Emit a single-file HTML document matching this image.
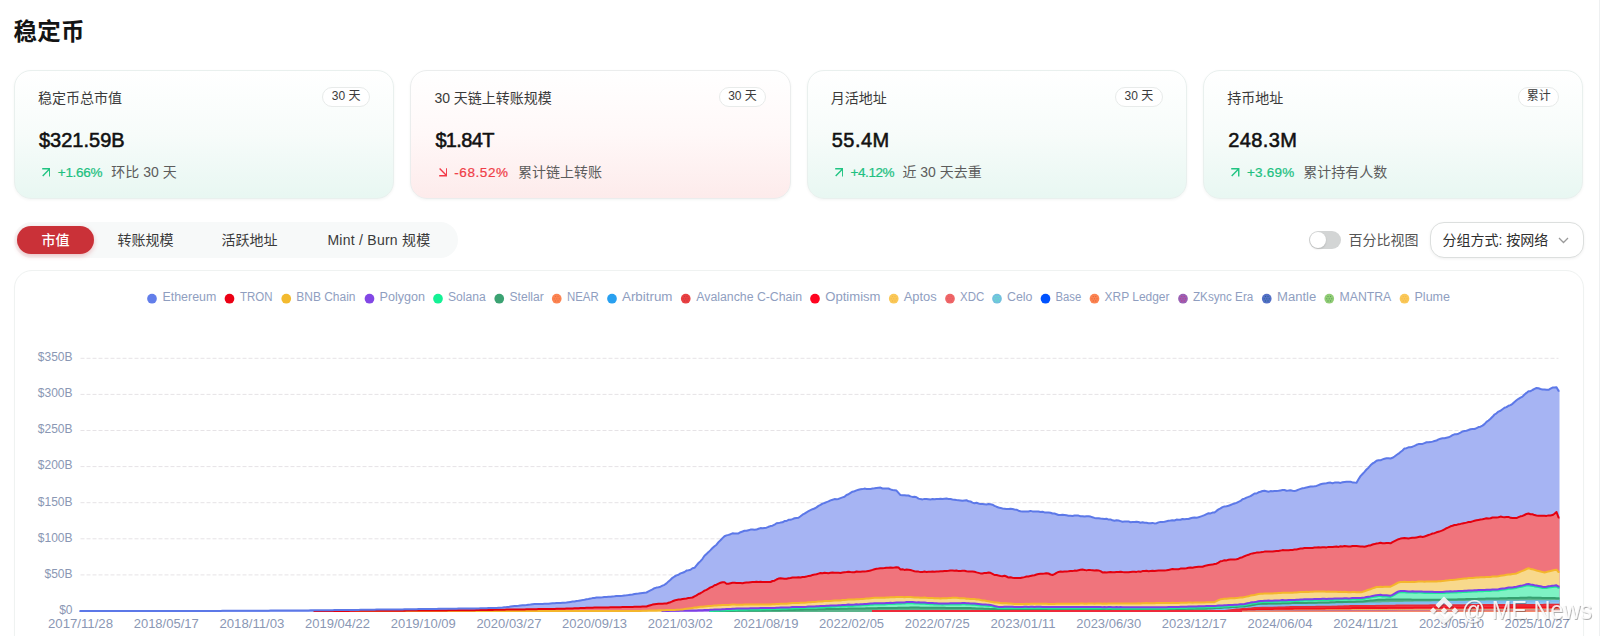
<!DOCTYPE html>
<html lang="zh-CN">
<head>
<meta charset="utf-8">
<title>稳定币</title>
<style>
*{box-sizing:border-box;margin:0;padding:0}
html,body{width:1600px;height:636px;overflow:hidden;background:#fff}
body{position:relative;font-family:"Liberation Sans","Noto Sans CJK SC",sans-serif;color:#1f1f1f}
.abs{position:absolute}
h1{position:absolute;left:13.5px;top:15.5px;font-size:23.5px;line-height:32px;font-weight:700;color:#141414;letter-spacing:0.3px}
.edge{position:absolute;right:0;top:0;width:1.3px;height:636px;background:#eef0f1}
.card{position:absolute;top:70.3px;height:128.3px;width:380.2px;border:1px solid #e9f0ee;border-radius:17px;
  background:linear-gradient(180deg,#ffffff 0%,#f7fcfa 50%,#e8f7f2 100%);box-shadow:0 1px 3px rgba(20,60,40,.05)}
.card.red{background:linear-gradient(180deg,#ffffff 0%,#fff8f8 50%,#fdebeb 100%);border-color:#ebeded}
.card .lbl{position:absolute;left:23px;top:17px;font-size:14px;line-height:20px;color:#3a3a3a;white-space:nowrap}
.card .pill{position:absolute;right:23.2px;top:15.7px;height:19.8px;min-width:47.8px;padding:0 8px;border:1px solid #e8ebea;border-radius:10px;background:#fff;
  font-size:12px;line-height:17.6px;color:#3c3c3c;text-align:center;white-space:nowrap}
.card .val{position:absolute;left:24px;top:54.7px;font-size:20px;line-height:28px;font-weight:400;color:#111;-webkit-text-stroke:0.55px #111;white-space:nowrap}
.card .chg{position:absolute;left:0;top:91.1px;height:20px;font-size:14px;line-height:20px;white-space:nowrap}
.card .chg svg{position:absolute;left:26.9px;top:5.7px;width:8.5px;height:8.5px}
.card .chg .p{position:absolute;left:42.8px;top:.5px;font-size:13.5px;color:#20c080;-webkit-text-stroke:0.22px currentColor}
.card.red .chg .p{color:#f03e48}
.card .chg .d{position:absolute;top:0;color:#5c5c5c}
.tabs{position:absolute;left:14px;top:222px;width:444px;height:36px;border-radius:18px;background:#f7f9f9}
.tab{position:absolute;top:4px;height:28px;line-height:28px;font-size:14px;color:#3a3a3a;white-space:nowrap;text-align:center}
.tab.on{left:3.3px;top:3.7px;width:76.4px;height:28.8px;line-height:28.6px;border-radius:14.4px;background:#ca3138;color:#fff;font-weight:500;box-shadow:0 2px 5px rgba(200,40,50,.28)}
.toggle{position:absolute;left:1309px;top:231px;width:32px;height:18px;border-radius:9px;background:#d3d5d5}
.toggle i{position:absolute;left:.9px;top:.9px;width:16.2px;height:16.2px;border-radius:50%;background:#fff;box-shadow:0 1px 2px rgba(0,0,0,.15)}
.tgl-l{position:absolute;left:1348.5px;top:230px;font-size:14px;line-height:20px;color:#555;white-space:nowrap}
.sel{position:absolute;left:1430px;top:222px;width:154px;height:36px;border:1px solid #dcdfde;border-radius:14px;background:#fff;box-shadow:0 1px 3px rgba(0,0,0,.06)}
.sel span{position:absolute;left:11.5px;top:7px;font-size:14px;line-height:20px;color:#2e2e2e;white-space:nowrap}
.sel svg{position:absolute;left:127px;top:14px;width:11px;height:7px}
.chart{position:absolute;left:14px;top:270px;width:1570px;height:400px;border:1px solid #eff2f1;border-radius:18px;background:#fff;box-shadow:0 1px 2px rgba(0,0,0,.02)}
svg.plot{position:absolute;left:0;top:0;width:1600px;height:636px;font-family:"Liberation Sans","Noto Sans CJK SC",sans-serif}
</style>
</head>
<body>
<h1>稳定币</h1>

<div class="card" style="left:14px">
  <div class="lbl">稳定币总市值</div><div class="pill">30 天</div>
  <div class="val" style="letter-spacing:0px">$321.59B</div>
  <div class="chg"><svg viewBox="0 0 8.5 8.5"><path d="M0.7 7.9L7.6 1M0.2 0.75H7.75V8.4" fill="none" stroke="#20c482" stroke-width="1.4"/></svg><span class="p" style="letter-spacing:-0.3px">+1.66%</span><span class="d" style="left:96.3px">环比 30 天</span></div>
</div>
<div class="card red" style="left:410.4px">
  <div class="lbl">30 天链上转账规模</div><div class="pill">30 天</div>
  <div class="val" style="letter-spacing:-0.65px">$1.84T</div>
  <div class="chg"><svg viewBox="0 0 8.5 8.5" style="left:27.3px;top:5.9px"><path d="M0.6 0.6L7.5 7.5M0.2 7.75H7.75V0.2" fill="none" stroke="#f23a48" stroke-width="1.4"/></svg><span class="p" style="letter-spacing:0.6px">-68.52%</span><span class="d" style="left:106.6px">累计链上转账</span></div>
</div>
<div class="card" style="left:806.8px">
  <div class="lbl">月活地址</div><div class="pill">30 天</div>
  <div class="val" style="letter-spacing:0.45px">55.4M</div>
  <div class="chg"><svg viewBox="0 0 8.5 8.5"><path d="M0.7 7.9L7.6 1M0.2 0.75H7.75V8.4" fill="none" stroke="#20c482" stroke-width="1.4"/></svg><span class="p" style="letter-spacing:-0.45px">+4.12%</span><span class="d" style="left:94.6px">近 30 天去重</span></div>
</div>
<div class="card" style="left:1203.2px">
  <div class="lbl">持币地址</div><div class="pill" style="min-width:40.9px;padding:0 6px">累计</div>
  <div class="val" style="letter-spacing:0.4px">248.3M</div>
  <div class="chg"><svg viewBox="0 0 8.5 8.5"><path d="M0.7 7.9L7.6 1M0.2 0.75H7.75V8.4" fill="none" stroke="#20c482" stroke-width="1.4"/></svg><span class="p" style="letter-spacing:0.22px">+3.69%</span><span class="d" style="left:99px">累计持有人数</span></div>
</div>

<div class="tabs">
  <div class="tab on">市值</div>
  <div class="tab" style="left:103.5px;width:56px">转账规模</div>
  <div class="tab" style="left:207.5px;width:56px">活跃地址</div>
  <div class="tab" style="left:311px;width:108px;letter-spacing:0.25px">Mint / Burn 规模</div>
</div>
<div class="toggle"><i></i></div>
<div class="tgl-l">百分比视图</div>
<div class="sel"><span>分组方式: 按网络</span><svg viewBox="0 0 11 7"><path d="M1 1L5.5 5.5L10 1" fill="none" stroke="#9a9a9a" stroke-width="1.3"/></svg></div>

<div class="chart"></div>
<svg class="plot" viewBox="0 0 1600 636">
<g stroke="#e6e3e6" stroke-width="1" stroke-dasharray="4 2" fill="none">
<line x1="80.5" x2="1558.5" y1="574.9" y2="574.9"/>
<line x1="80.5" x2="1558.5" y1="538.8" y2="538.8"/>
<line x1="80.5" x2="1558.5" y1="502.7" y2="502.7"/>
<line x1="80.5" x2="1558.5" y1="466.6" y2="466.6"/>
<line x1="80.5" x2="1558.5" y1="430.5" y2="430.5"/>
<line x1="80.5" x2="1558.5" y1="394.4" y2="394.4"/>
<line x1="80.5" x2="1558.5" y1="358.3" y2="358.3"/>
</g>
<defs><clipPath id="pc"><rect x="79.5" y="340" width="1480" height="272"/></clipPath></defs>
<g clip-path="url(#pc)" stroke-width="2" stroke-linejoin="round">
<defs><path id="L0" d="M74.5 619.0L74.5 611.0L80.5 611.0L82.5 611.0L84.5 611.0L86.5 611.0L88.5 611.0L90.5 611.0L92.5 611.0L94.5 611.0L96.5 611.0L98.5 611.0L100.5 611.0L102.5 611.0L104.5 611.0L106.5 611.0L108.5 611.0L110.5 611.0L112.5 611.0L114.5 611.0L116.5 611.0L118.5 611.0L120.5 611.0L122.5 611.0L124.5 611.0L126.5 611.0L128.5 611.0L130.5 611.0L132.5 611.0L134.5 611.0L136.5 611.0L138.5 611.0L140.5 611.0L142.5 611.0L144.5 611.0L146.5 611.0L148.5 611.0L150.5 611.0L152.5 611.0L154.5 611.0L156.5 611.0L158.5 611.0L160.5 611.0L162.5 611.0L164.5 611.0L166.5 610.9L168.5 610.9L170.5 610.9L172.5 610.9L174.5 610.9L176.5 610.9L178.5 610.9L180.5 610.9L182.5 610.9L184.5 610.9L186.5 610.9L188.5 610.9L190.5 610.9L192.5 610.9L194.5 610.9L196.5 610.9L198.5 610.9L200.5 610.9L202.5 610.9L204.5 610.9L206.5 610.9L208.5 610.9L210.5 610.9L212.5 610.9L214.5 610.9L216.5 610.9L218.5 610.9L220.5 610.9L222.5 610.8L224.5 610.8L226.5 610.8L228.5 610.8L230.5 610.8L232.5 610.8L234.5 610.8L236.5 610.8L238.5 610.8L240.5 610.8L242.5 610.8L244.5 610.8L246.5 610.8L248.5 610.8L250.5 610.8L252.5 610.8L254.5 610.8L256.5 610.7L258.5 610.7L260.5 610.7L262.5 610.7L264.5 610.7L266.5 610.7L268.5 610.7L270.5 610.6L272.5 610.6L274.5 610.6L276.5 610.6L278.5 610.6L280.5 610.6L282.5 610.6L284.5 610.5L286.5 610.5L288.5 610.5L290.5 610.5L292.5 610.5L294.5 610.5L296.5 610.4L298.5 610.4L300.5 610.4L302.5 610.4L304.5 610.4L306.5 610.4L308.5 610.4L310.5 610.3L312.5 610.3L314.5 610.3L316.5 610.3L318.5 610.3L320.5 610.3L322.5 610.3L324.5 610.2L326.5 610.2L328.5 610.2L330.5 610.2L332.5 610.2L334.5 610.1L336.5 610.1L338.5 610.1L340.5 610.1L342.5 610.0L344.5 610.0L346.5 610.0L348.5 610.0L350.5 610.0L352.5 609.9L354.5 609.9L356.5 609.9L358.5 609.9L360.5 609.8L362.5 609.8L364.5 609.8L366.5 609.8L368.5 609.8L370.5 609.7L372.5 609.7L374.5 609.7L376.5 609.6L378.5 609.6L380.5 609.6L382.5 609.6L384.5 609.6L386.5 609.6L388.5 609.5L390.5 609.5L392.5 609.5L394.5 609.4L396.5 609.4L398.5 609.4L400.5 609.4L402.5 609.4L404.5 609.3L406.5 609.3L408.5 609.3L410.5 609.3L412.5 609.2L414.5 609.2L416.5 609.2L418.5 609.1L420.5 609.1L422.5 609.1L424.5 609.1L426.5 609.1L428.5 609.0L430.5 609.0L432.5 609.0L434.5 608.9L436.5 608.9L438.5 608.8L440.5 608.8L442.5 608.8L444.5 608.7L446.5 608.7L448.5 608.8L450.5 608.7L452.5 608.7L454.5 608.7L456.5 608.7L458.5 608.6L460.5 608.6L462.5 608.5L464.5 608.5L466.5 608.4L468.5 608.4L470.5 608.4L472.5 608.4L474.5 608.4L476.5 608.4L478.5 608.4L480.5 608.3L482.5 608.2L484.5 608.2L486.5 608.2L488.5 608.1L490.5 608.1L492.5 608.0L494.5 607.9L496.5 607.9L498.5 607.8L500.5 607.7L502.5 607.5L504.5 607.2L506.5 607.1L508.5 606.9L510.5 606.6L512.5 606.3L514.5 606.1L516.5 606.0L518.5 605.8L520.5 605.5L522.5 605.3L524.5 605.2L526.5 605.0L528.5 604.7L530.5 604.5L532.5 604.2L534.5 604.0L536.5 604.1L538.5 604.0L540.5 603.9L542.5 603.9L544.5 603.7L546.5 603.7L548.5 603.7L550.5 603.5L552.5 603.3L554.5 603.2L556.5 603.1L558.5 603.0L560.5 602.9L562.5 602.8L564.5 602.7L566.5 602.6L568.5 602.2L570.5 601.9L572.5 601.6L574.5 601.4L576.5 601.0L578.5 600.8L580.5 600.4L582.5 600.1L584.5 599.7L586.5 599.2L588.5 599.0L590.5 598.6L592.5 598.1L594.5 598.0L596.5 597.6L598.5 597.5L600.5 597.4L602.5 597.3L604.5 597.1L606.5 596.9L608.5 596.8L610.5 596.8L612.5 596.4L614.5 596.3L616.5 596.1L618.5 595.9L620.5 595.9L622.5 595.7L624.5 595.4L626.5 595.3L628.5 595.1L630.5 594.7L632.5 594.5L634.5 594.1L636.5 593.8L638.5 593.6L640.5 593.3L642.5 593.0L644.5 592.7L646.5 592.5L648.5 591.4L650.5 590.4L652.5 589.4L654.5 588.2L656.5 587.6L658.5 587.2L660.5 586.7L662.5 585.7L664.5 584.8L666.5 583.4L668.5 581.4L670.5 579.7L672.5 577.8L674.5 576.5L676.5 575.4L678.5 574.8L680.5 573.4L682.5 572.8L684.5 572.0L686.5 570.6L688.5 570.2L690.5 569.7L692.5 568.2L694.5 567.8L696.5 565.4L698.5 563.0L700.5 561.1L702.5 558.8L704.5 555.8L706.5 553.9L708.5 552.1L710.5 550.1L712.5 548.0L714.5 546.2L716.5 544.7L718.5 542.1L720.5 540.2L722.5 538.1L724.5 536.2L726.5 535.4L728.5 534.9L730.5 534.2L732.5 533.3L734.5 533.6L736.5 533.4L738.5 533.4L740.5 532.2L742.5 531.5L744.5 530.7L746.5 530.8L748.5 530.2L750.5 529.6L752.5 529.4L754.5 529.7L756.5 529.6L758.5 528.8L760.5 528.1L762.5 528.3L764.5 528.0L766.5 527.7L768.5 526.8L770.5 526.1L772.5 525.7L774.5 524.7L776.5 523.3L778.5 523.1L780.5 522.6L782.5 522.3L784.5 521.1L786.5 521.0L788.5 519.8L790.5 519.8L792.5 519.1L794.5 518.3L796.5 517.9L798.5 517.8L800.5 516.3L802.5 514.7L804.5 513.6L806.5 512.3L808.5 511.2L810.5 510.2L812.5 509.2L814.5 508.5L816.5 507.4L818.5 505.9L820.5 504.9L822.5 503.6L824.5 503.0L826.5 502.1L828.5 501.4L830.5 500.4L832.5 499.8L834.5 499.1L836.5 499.2L838.5 498.9L840.5 498.1L842.5 497.4L844.5 496.8L846.5 495.0L848.5 494.3L850.5 492.9L852.5 491.7L854.5 491.2L856.5 490.4L858.5 489.7L860.5 489.3L862.5 489.1L864.5 488.6L866.5 488.9L868.5 488.9L870.5 488.9L872.5 488.6L874.5 488.3L876.5 487.9L878.5 487.7L880.5 487.6L882.5 488.5L884.5 488.5L886.5 488.5L888.5 488.5L890.5 489.4L892.5 490.0L894.5 490.2L896.5 490.6L898.5 492.8L900.5 495.1L902.5 495.3L904.5 495.2L906.5 495.5L908.5 495.5L910.5 496.4L912.5 496.9L914.5 496.8L916.5 497.2L918.5 498.6L920.5 499.1L922.5 499.4L924.5 498.9L926.5 499.0L928.5 499.2L930.5 499.4L932.5 499.1L934.5 499.3L936.5 498.9L938.5 498.9L940.5 498.8L942.5 499.0L944.5 498.8L946.5 498.6L948.5 498.9L950.5 499.0L952.5 499.4L954.5 499.7L956.5 500.1L958.5 500.2L960.5 500.4L962.5 500.7L964.5 500.4L966.5 500.2L968.5 501.3L970.5 501.5L972.5 502.6L974.5 503.3L976.5 502.8L978.5 503.5L980.5 504.0L982.5 504.1L984.5 504.3L986.5 504.5L988.5 504.0L990.5 504.2L992.5 504.7L994.5 505.8L996.5 506.7L998.5 507.5L1000.5 507.9L1002.5 508.5L1004.5 508.8L1006.5 509.1L1008.5 509.0L1010.5 508.8L1012.5 509.0L1014.5 509.5L1016.5 509.7L1018.5 510.7L1020.5 511.2L1022.5 511.4L1024.5 511.5L1026.5 511.6L1028.5 511.5L1030.5 510.9L1032.5 511.4L1034.5 511.6L1036.5 511.5L1038.5 511.5L1040.5 512.0L1042.5 511.7L1044.5 512.4L1046.5 512.4L1048.5 512.4L1050.5 512.7L1052.5 513.5L1054.5 513.5L1056.5 514.2L1058.5 515.0L1060.5 514.9L1062.5 514.8L1064.5 515.0L1066.5 515.3L1068.5 515.7L1070.5 515.8L1072.5 516.0L1074.5 515.6L1076.5 515.4L1078.5 515.6L1080.5 516.2L1082.5 516.2L1084.5 516.6L1086.5 516.3L1088.5 516.3L1090.5 516.6L1092.5 517.3L1094.5 517.9L1096.5 518.3L1098.5 518.2L1100.5 518.5L1102.5 518.7L1104.5 518.9L1106.5 518.7L1108.5 519.6L1110.5 519.4L1112.5 520.3L1114.5 520.8L1116.5 520.3L1118.5 520.5L1120.5 521.1L1122.5 521.7L1124.5 521.6L1126.5 521.5L1128.5 521.4L1130.5 522.2L1132.5 521.9L1134.5 522.1L1136.5 521.8L1138.5 522.0L1140.5 522.7L1142.5 522.2L1144.5 522.8L1146.5 522.8L1148.5 523.2L1150.5 523.3L1152.5 522.9L1154.5 523.4L1156.5 523.2L1158.5 522.4L1160.5 521.9L1162.5 521.9L1164.5 521.7L1166.5 521.3L1168.5 520.7L1170.5 520.5L1172.5 520.2L1174.5 520.5L1176.5 519.6L1178.5 519.7L1180.5 519.8L1182.5 519.0L1184.5 519.3L1186.5 519.1L1188.5 519.0L1190.5 518.2L1192.5 517.7L1194.5 517.4L1196.5 517.7L1198.5 517.3L1200.5 516.6L1202.5 515.9L1204.5 515.1L1206.5 514.1L1208.5 513.3L1210.5 513.4L1212.5 512.6L1214.5 512.6L1216.5 510.9L1218.5 509.4L1220.5 508.3L1222.5 507.1L1224.5 506.4L1226.5 506.2L1228.5 505.7L1230.5 505.0L1232.5 504.1L1234.5 503.5L1236.5 502.9L1238.5 501.8L1240.5 500.9L1242.5 499.2L1244.5 498.6L1246.5 497.6L1248.5 496.9L1250.5 496.1L1252.5 494.8L1254.5 493.5L1256.5 493.5L1258.5 492.3L1260.5 491.8L1262.5 491.0L1264.5 490.8L1266.5 491.2L1268.5 491.7L1270.5 491.1L1272.5 491.2L1274.5 490.9L1276.5 490.9L1278.5 490.7L1280.5 490.4L1282.5 490.1L1284.5 490.0L1286.5 490.7L1288.5 490.6L1290.5 490.2L1292.5 490.7L1294.5 491.1L1296.5 490.5L1298.5 489.6L1300.5 488.9L1302.5 488.3L1304.5 488.0L1306.5 487.4L1308.5 487.0L1310.5 486.6L1312.5 486.4L1314.5 486.3L1316.5 485.9L1318.5 485.1L1320.5 484.3L1322.5 483.8L1324.5 483.5L1326.5 483.2L1328.5 482.7L1330.5 482.6L1332.5 483.2L1334.5 482.6L1336.5 482.6L1338.5 482.6L1340.5 482.9L1342.5 482.3L1344.5 482.0L1346.5 481.8L1348.5 481.8L1350.5 481.8L1352.5 482.4L1354.5 482.6L1356.5 482.7L1358.5 479.2L1360.5 476.1L1362.5 474.0L1364.5 471.9L1366.5 469.5L1368.5 467.7L1370.5 465.3L1372.5 463.5L1374.5 462.4L1376.5 460.8L1378.5 460.2L1380.5 460.3L1382.5 459.4L1384.5 458.7L1386.5 458.3L1388.5 458.3L1390.5 458.5L1392.5 457.8L1394.5 456.5L1396.5 455.0L1398.5 453.7L1400.5 452.0L1402.5 450.5L1404.5 448.4L1406.5 448.2L1408.5 447.3L1410.5 447.3L1412.5 446.7L1414.5 445.8L1416.5 444.8L1418.5 444.1L1420.5 444.0L1422.5 443.9L1424.5 443.1L1426.5 442.3L1428.5 442.3L1430.5 442.1L1432.5 441.6L1434.5 441.0L1436.5 440.6L1438.5 439.4L1440.5 438.8L1442.5 438.3L1444.5 438.3L1446.5 437.7L1448.5 437.3L1450.5 436.3L1452.5 435.2L1454.5 434.3L1456.5 434.3L1458.5 433.7L1460.5 432.7L1462.5 431.5L1464.5 431.1L1466.5 430.7L1468.5 430.0L1470.5 429.2L1472.5 429.0L1474.5 429.0L1476.5 428.1L1478.5 427.1L1480.5 426.7L1482.5 425.6L1484.5 424.1L1486.5 421.9L1488.5 420.5L1490.5 418.8L1492.5 416.8L1494.5 414.5L1496.5 413.3L1498.5 411.6L1500.5 410.8L1502.5 409.2L1504.5 407.8L1506.5 407.1L1508.5 405.7L1510.5 405.1L1512.5 403.8L1514.5 401.9L1516.5 400.2L1518.5 398.8L1520.5 397.6L1522.5 396.6L1524.5 394.5L1526.5 392.9L1528.5 391.2L1530.5 391.2L1532.5 390.0L1534.5 388.9L1536.5 388.0L1538.5 388.3L1540.5 389.0L1542.5 389.4L1544.5 389.4L1546.5 389.8L1548.5 389.8L1550.5 388.7L1552.5 387.6L1554.5 387.6L1556.5 387.2L1558.5 390.8L1564.5 390.8L1564.5 619.0Z"/>
<path id="L1" d="M314.5 619.0L314.5 611.0L316.5 610.9L318.5 610.9L320.5 610.9L322.5 610.9L324.5 610.9L326.5 610.9L328.5 610.9L330.5 610.9L332.5 610.9L334.5 610.9L336.5 610.9L338.5 610.9L340.5 610.9L342.5 610.9L344.5 610.9L346.5 610.9L348.5 610.9L350.5 610.8L352.5 610.8L354.5 610.8L356.5 610.8L358.5 610.8L360.5 610.8L362.5 610.8L364.5 610.8L366.5 610.8L368.5 610.8L370.5 610.8L372.5 610.8L374.5 610.8L376.5 610.8L378.5 610.8L380.5 610.8L382.5 610.8L384.5 610.7L386.5 610.7L388.5 610.7L390.5 610.7L392.5 610.7L394.5 610.7L396.5 610.7L398.5 610.7L400.5 610.7L402.5 610.7L404.5 610.7L406.5 610.6L408.5 610.6L410.5 610.6L412.5 610.6L414.5 610.6L416.5 610.6L418.5 610.6L420.5 610.5L422.5 610.5L424.5 610.5L426.5 610.5L428.5 610.5L430.5 610.5L432.5 610.5L434.5 610.4L436.5 610.4L438.5 610.4L440.5 610.4L442.5 610.4L444.5 610.4L446.5 610.4L448.5 610.3L450.5 610.3L452.5 610.3L454.5 610.3L456.5 610.3L458.5 610.3L460.5 610.2L462.5 610.2L464.5 610.2L466.5 610.2L468.5 610.2L470.5 610.2L472.5 610.2L474.5 610.2L476.5 610.1L478.5 610.1L480.5 610.1L482.5 610.1L484.5 610.0L486.5 610.0L488.5 610.0L490.5 609.9L492.5 609.9L494.5 609.8L496.5 609.8L498.5 609.8L500.5 609.8L502.5 609.7L504.5 609.7L506.5 609.6L508.5 609.6L510.5 609.6L512.5 609.5L514.5 609.5L516.5 609.5L518.5 609.5L520.5 609.4L522.5 609.4L524.5 609.4L526.5 609.3L528.5 609.3L530.5 609.2L532.5 609.2L534.5 609.2L536.5 609.2L538.5 609.1L540.5 609.1L542.5 609.1L544.5 609.0L546.5 609.0L548.5 609.0L550.5 608.9L552.5 608.9L554.5 608.9L556.5 608.8L558.5 608.8L560.5 608.8L562.5 608.8L564.5 608.7L566.5 608.6L568.5 608.6L570.5 608.5L572.5 608.4L574.5 608.3L576.5 608.2L578.5 608.2L580.5 608.1L582.5 608.0L584.5 607.9L586.5 607.8L588.5 607.8L590.5 607.8L592.5 607.7L594.5 607.6L596.5 607.5L598.5 607.4L600.5 607.5L602.5 607.4L604.5 607.4L606.5 607.4L608.5 607.4L610.5 607.3L612.5 607.2L614.5 607.2L616.5 607.2L618.5 607.2L620.5 607.2L622.5 607.1L624.5 607.0L626.5 607.0L628.5 606.9L630.5 606.9L632.5 606.9L634.5 606.8L636.5 606.8L638.5 606.7L640.5 606.7L642.5 606.6L644.5 606.6L646.5 606.5L648.5 605.8L650.5 605.2L652.5 604.6L654.5 604.2L656.5 604.0L658.5 603.8L660.5 603.7L662.5 603.7L664.5 603.6L666.5 603.6L668.5 602.8L670.5 602.2L672.5 601.3L674.5 600.5L676.5 599.9L678.5 599.6L680.5 599.4L682.5 599.0L684.5 598.7L686.5 598.5L688.5 597.9L690.5 597.8L692.5 597.5L694.5 596.4L696.5 595.4L698.5 594.0L700.5 593.2L702.5 592.0L704.5 590.7L706.5 589.8L708.5 588.7L710.5 587.4L712.5 586.7L714.5 585.3L716.5 584.7L718.5 583.6L720.5 582.8L722.5 582.2L724.5 582.2L726.5 583.7L728.5 583.7L730.5 583.2L732.5 582.8L734.5 582.7L736.5 582.9L738.5 582.9L740.5 582.9L742.5 583.2L744.5 582.7L746.5 582.4L748.5 582.6L750.5 582.2L752.5 581.9L754.5 582.0L756.5 581.8L758.5 581.9L760.5 581.8L762.5 582.0L764.5 582.1L766.5 581.9L768.5 582.0L770.5 582.0L772.5 581.0L774.5 580.7L776.5 579.5L778.5 578.6L780.5 578.3L782.5 578.5L784.5 578.7L786.5 578.7L788.5 578.3L790.5 578.0L792.5 577.5L794.5 577.6L796.5 577.6L798.5 577.3L800.5 577.4L802.5 577.0L804.5 576.9L806.5 576.6L808.5 575.9L810.5 575.8L812.5 574.9L814.5 574.6L816.5 574.2L818.5 573.6L820.5 573.0L822.5 573.2L824.5 572.8L826.5 572.9L828.5 573.3L830.5 572.8L832.5 572.6L834.5 572.7L836.5 572.7L838.5 572.8L840.5 572.9L842.5 572.5L844.5 572.2L846.5 572.0L848.5 571.7L850.5 572.1L852.5 572.2L854.5 572.2L856.5 571.5L858.5 571.8L860.5 571.8L862.5 571.6L864.5 571.6L866.5 571.3L868.5 570.9L870.5 570.5L872.5 569.9L874.5 569.2L876.5 568.7L878.5 568.6L880.5 568.3L882.5 568.2L884.5 568.1L886.5 567.7L888.5 567.7L890.5 567.5L892.5 567.7L894.5 567.5L896.5 567.2L898.5 567.6L900.5 569.4L902.5 569.3L904.5 569.9L906.5 569.6L908.5 569.8L910.5 570.0L912.5 570.6L914.5 571.2L916.5 571.6L918.5 571.6L920.5 572.1L922.5 571.9L924.5 571.6L926.5 571.9L928.5 571.8L930.5 571.7L932.5 571.6L934.5 571.8L936.5 571.4L938.5 571.5L940.5 571.3L942.5 571.3L944.5 571.0L946.5 570.9L948.5 570.8L950.5 570.6L952.5 570.5L954.5 570.8L956.5 570.5L958.5 571.1L960.5 570.9L962.5 570.7L964.5 570.7L966.5 571.3L968.5 571.5L970.5 571.5L972.5 571.5L974.5 571.7L976.5 572.4L978.5 572.9L980.5 573.4L982.5 573.5L984.5 572.9L986.5 572.9L988.5 572.6L990.5 572.8L992.5 573.8L994.5 575.0L996.5 575.0L998.5 575.5L1000.5 575.9L1002.5 576.2L1004.5 575.7L1006.5 576.5L1008.5 577.6L1010.5 577.3L1012.5 577.8L1014.5 578.0L1016.5 578.0L1018.5 578.1L1020.5 578.0L1022.5 577.6L1024.5 577.1L1026.5 576.5L1028.5 576.5L1030.5 575.9L1032.5 575.5L1034.5 575.2L1036.5 574.5L1038.5 574.1L1040.5 573.7L1042.5 573.7L1044.5 573.5L1046.5 573.2L1048.5 573.5L1050.5 574.5L1052.5 575.0L1054.5 574.1L1056.5 572.8L1058.5 571.9L1060.5 571.6L1062.5 571.8L1064.5 571.4L1066.5 571.5L1068.5 571.3L1070.5 570.9L1072.5 571.1L1074.5 570.6L1076.5 570.8L1078.5 570.3L1080.5 569.8L1082.5 569.6L1084.5 569.9L1086.5 570.4L1088.5 569.9L1090.5 570.1L1092.5 570.2L1094.5 570.5L1096.5 570.3L1098.5 570.4L1100.5 571.1L1102.5 572.4L1104.5 572.3L1106.5 572.6L1108.5 572.3L1110.5 572.0L1112.5 572.3L1114.5 572.2L1116.5 571.9L1118.5 572.1L1120.5 571.7L1122.5 572.1L1124.5 572.2L1126.5 572.3L1128.5 572.3L1130.5 572.0L1132.5 571.8L1134.5 571.7L1136.5 571.9L1138.5 571.4L1140.5 571.7L1142.5 571.1L1144.5 570.9L1146.5 570.8L1148.5 571.2L1150.5 571.0L1152.5 570.8L1154.5 571.1L1156.5 570.7L1158.5 570.6L1160.5 570.5L1162.5 570.6L1164.5 570.5L1166.5 570.3L1168.5 569.9L1170.5 569.5L1172.5 569.1L1174.5 569.3L1176.5 569.2L1178.5 569.2L1180.5 568.6L1182.5 568.4L1184.5 568.5L1186.5 568.3L1188.5 567.8L1190.5 567.6L1192.5 567.8L1194.5 567.3L1196.5 566.9L1198.5 566.7L1200.5 566.8L1202.5 566.7L1204.5 566.0L1206.5 565.4L1208.5 565.0L1210.5 564.7L1212.5 564.6L1214.5 564.0L1216.5 563.7L1218.5 562.6L1220.5 561.2L1222.5 560.9L1224.5 560.2L1226.5 560.4L1228.5 559.7L1230.5 559.4L1232.5 559.6L1234.5 559.5L1236.5 559.2L1238.5 558.7L1240.5 557.7L1242.5 557.2L1244.5 556.2L1246.5 555.4L1248.5 554.8L1250.5 553.9L1252.5 553.4L1254.5 553.1L1256.5 552.6L1258.5 552.4L1260.5 552.3L1262.5 552.1L1264.5 551.6L1266.5 551.6L1268.5 551.4L1270.5 551.5L1272.5 551.6L1274.5 551.2L1276.5 551.0L1278.5 550.9L1280.5 550.6L1282.5 550.1L1284.5 550.2L1286.5 550.3L1288.5 550.2L1290.5 550.0L1292.5 549.9L1294.5 549.6L1296.5 549.4L1298.5 549.0L1300.5 548.6L1302.5 548.5L1304.5 548.0L1306.5 547.9L1308.5 548.0L1310.5 548.1L1312.5 548.0L1314.5 547.6L1316.5 547.4L1318.5 547.3L1320.5 547.4L1322.5 547.2L1324.5 547.2L1326.5 547.4L1328.5 546.9L1330.5 546.9L1332.5 547.0L1334.5 546.7L1336.5 546.6L1338.5 546.9L1340.5 546.3L1342.5 546.4L1344.5 546.0L1346.5 546.3L1348.5 546.6L1350.5 546.4L1352.5 546.0L1354.5 546.0L1356.5 546.0L1358.5 546.2L1360.5 546.4L1362.5 546.6L1364.5 546.8L1366.5 546.2L1368.5 545.6L1370.5 545.4L1372.5 544.5L1374.5 544.1L1376.5 543.5L1378.5 543.2L1380.5 542.7L1382.5 543.3L1384.5 543.2L1386.5 543.0L1388.5 543.1L1390.5 543.3L1392.5 542.1L1394.5 541.1L1396.5 540.1L1398.5 539.2L1400.5 538.6L1402.5 538.3L1404.5 538.1L1406.5 538.2L1408.5 538.4L1410.5 538.1L1412.5 537.7L1414.5 537.8L1416.5 537.4L1418.5 537.0L1420.5 536.6L1422.5 536.9L1424.5 536.5L1426.5 535.8L1428.5 535.0L1430.5 534.4L1432.5 533.5L1434.5 533.2L1436.5 532.3L1438.5 531.7L1440.5 531.1L1442.5 530.4L1444.5 529.3L1446.5 528.2L1448.5 527.4L1450.5 526.3L1452.5 525.8L1454.5 525.0L1456.5 524.9L1458.5 524.3L1460.5 523.9L1462.5 523.4L1464.5 523.1L1466.5 522.6L1468.5 522.0L1470.5 522.0L1472.5 521.4L1474.5 520.8L1476.5 520.3L1478.5 519.9L1480.5 519.5L1482.5 519.2L1484.5 518.8L1486.5 518.3L1488.5 518.4L1490.5 518.3L1492.5 517.5L1494.5 517.5L1496.5 517.5L1498.5 517.3L1500.5 516.6L1502.5 517.0L1504.5 517.2L1506.5 517.0L1508.5 516.9L1510.5 517.8L1512.5 518.1L1514.5 518.1L1516.5 518.1L1518.5 517.2L1520.5 516.3L1522.5 515.9L1524.5 515.0L1526.5 513.9L1528.5 513.5L1530.5 514.2L1532.5 514.3L1534.5 515.1L1536.5 515.5L1538.5 515.7L1540.5 515.7L1542.5 515.8L1544.5 515.8L1546.5 515.9L1548.5 515.4L1550.5 515.5L1552.5 515.1L1554.5 513.7L1556.5 512.0L1558.5 517.4L1564.5 517.4L1564.5 619.0Z"/>
<path id="L2" d="M356.5 619.0L356.5 611.0L358.5 610.9L360.5 610.9L362.5 610.9L364.5 610.9L366.5 610.9L368.5 610.9L370.5 610.9L372.5 610.9L374.5 610.9L376.5 610.9L378.5 610.9L380.5 610.9L382.5 610.9L384.5 610.9L386.5 610.9L388.5 610.9L390.5 610.9L392.5 610.9L394.5 610.9L396.5 610.9L398.5 610.9L400.5 610.9L402.5 610.9L404.5 610.9L406.5 610.9L408.5 610.9L410.5 610.9L412.5 610.9L414.5 610.9L416.5 610.9L418.5 610.9L420.5 610.9L422.5 610.9L424.5 610.9L426.5 610.9L428.5 610.9L430.5 610.9L432.5 610.9L434.5 610.9L436.5 610.9L438.5 610.9L440.5 610.9L442.5 610.9L444.5 610.9L446.5 610.9L448.5 610.9L450.5 610.9L452.5 610.9L454.5 610.9L456.5 610.9L458.5 610.9L460.5 610.9L462.5 610.9L464.5 610.9L466.5 610.9L468.5 610.9L470.5 610.9L472.5 610.9L474.5 610.9L476.5 610.9L478.5 610.9L480.5 610.9L482.5 610.9L484.5 610.9L486.5 610.9L488.5 610.9L490.5 610.9L492.5 610.9L494.5 610.9L496.5 610.9L498.5 610.9L500.5 610.9L502.5 610.9L504.5 610.9L506.5 610.9L508.5 610.9L510.5 610.9L512.5 610.9L514.5 610.9L516.5 610.9L518.5 610.9L520.5 610.9L522.5 610.9L524.5 610.9L526.5 610.9L528.5 610.9L530.5 610.9L532.5 610.9L534.5 610.9L536.5 610.9L538.5 610.9L540.5 610.9L542.5 610.9L544.5 610.9L546.5 610.9L548.5 610.9L550.5 610.9L552.5 610.9L554.5 610.9L556.5 610.9L558.5 610.9L560.5 610.9L562.5 610.9L564.5 610.9L566.5 610.9L568.5 610.9L570.5 610.9L572.5 610.9L574.5 610.9L576.5 610.9L578.5 610.9L580.5 610.9L582.5 610.9L584.5 610.9L586.5 610.9L588.5 610.9L590.5 610.9L592.5 610.9L594.5 610.9L596.5 610.9L598.5 610.9L600.5 610.9L602.5 610.9L604.5 610.9L606.5 610.9L608.5 610.9L610.5 610.9L612.5 610.9L614.5 610.9L616.5 610.9L618.5 610.9L620.5 610.9L622.5 610.9L624.5 610.9L626.5 610.9L628.5 610.9L630.5 610.9L632.5 610.9L634.5 610.9L636.5 610.9L638.5 610.9L640.5 610.9L642.5 610.8L644.5 610.8L646.5 610.7L648.5 610.6L650.5 610.6L652.5 610.5L654.5 610.5L656.5 610.4L658.5 610.3L660.5 610.3L662.5 610.2L664.5 610.2L666.5 610.1L668.5 610.0L670.5 610.0L672.5 609.9L674.5 609.9L676.5 609.8L678.5 609.7L680.5 609.6L682.5 609.4L684.5 609.1L686.5 608.8L688.5 608.5L690.5 608.2L692.5 607.9L694.5 607.6L696.5 607.4L698.5 607.0L700.5 606.8L702.5 606.7L704.5 606.5L706.5 606.3L708.5 606.1L710.5 605.9L712.5 605.8L714.5 605.6L716.5 605.5L718.5 605.3L720.5 605.2L722.5 605.1L724.5 605.0L726.5 605.0L728.5 604.9L730.5 604.7L732.5 604.6L734.5 604.6L736.5 604.7L738.5 604.7L740.5 604.7L742.5 604.8L744.5 604.6L746.5 604.6L748.5 604.6L750.5 604.5L752.5 604.4L754.5 604.4L756.5 604.4L758.5 604.4L760.5 604.4L762.5 604.4L764.5 604.4L766.5 604.4L768.5 604.4L770.5 604.4L772.5 604.2L774.5 604.3L776.5 604.1L778.5 603.9L780.5 603.7L782.5 603.7L784.5 603.7L786.5 603.7L788.5 603.5L790.5 603.3L792.5 603.1L794.5 603.1L796.5 603.0L798.5 602.9L800.5 602.8L802.5 602.7L804.5 602.7L806.5 602.6L808.5 602.3L810.5 602.3L812.5 602.0L814.5 601.9L816.5 601.8L818.5 601.6L820.5 601.4L822.5 601.4L824.5 601.1L826.5 601.1L828.5 601.1L830.5 600.9L832.5 600.7L834.5 600.6L836.5 600.5L838.5 600.4L840.5 600.4L842.5 600.1L844.5 599.9L846.5 599.8L848.5 599.6L850.5 599.6L852.5 599.6L854.5 599.5L856.5 599.2L858.5 599.2L860.5 599.1L862.5 598.9L864.5 598.8L866.5 598.6L868.5 598.4L870.5 598.2L872.5 598.0L874.5 597.8L876.5 597.8L878.5 597.8L880.5 597.8L882.5 597.8L884.5 597.7L886.5 597.5L888.5 597.4L890.5 597.3L892.5 597.3L894.5 597.2L896.5 597.0L898.5 597.0L900.5 597.1L902.5 597.0L904.5 597.2L906.5 597.0L908.5 597.1L910.5 597.1L912.5 597.3L914.5 597.5L916.5 597.6L918.5 597.5L920.5 597.7L922.5 597.7L924.5 597.6L926.5 597.8L928.5 597.9L930.5 598.0L932.5 598.1L934.5 598.2L936.5 598.2L938.5 598.3L940.5 598.4L942.5 598.3L944.5 598.2L946.5 598.2L948.5 598.1L950.5 597.9L952.5 597.8L954.5 597.8L956.5 597.8L958.5 598.1L960.5 598.2L962.5 598.2L964.5 598.3L966.5 598.7L968.5 598.8L970.5 598.9L972.5 599.0L974.5 599.1L976.5 599.4L978.5 599.6L980.5 600.0L982.5 600.4L984.5 600.6L986.5 601.0L988.5 601.3L990.5 601.7L992.5 602.1L994.5 602.5L996.5 602.6L998.5 602.8L1000.5 603.1L1002.5 603.3L1004.5 603.3L1006.5 603.3L1008.5 603.4L1010.5 603.5L1012.5 603.8L1014.5 604.1L1016.5 604.1L1018.5 604.1L1020.5 604.1L1022.5 604.0L1024.5 603.9L1026.5 603.8L1028.5 603.9L1030.5 603.8L1032.5 603.8L1034.5 603.8L1036.5 603.7L1038.5 603.7L1040.5 603.7L1042.5 603.8L1044.5 603.8L1046.5 603.8L1048.5 603.9L1050.5 603.9L1052.5 604.0L1054.5 603.9L1056.5 603.8L1058.5 603.7L1060.5 603.7L1062.5 603.8L1064.5 603.8L1066.5 603.8L1068.5 603.8L1070.5 603.7L1072.5 603.8L1074.5 603.7L1076.5 603.8L1078.5 603.7L1080.5 603.5L1082.5 603.5L1084.5 603.7L1086.5 603.8L1088.5 603.6L1090.5 603.6L1092.5 603.6L1094.5 603.7L1096.5 603.6L1098.5 603.6L1100.5 603.6L1102.5 603.7L1104.5 603.6L1106.5 603.7L1108.5 603.6L1110.5 603.5L1112.5 603.6L1114.5 603.6L1116.5 603.5L1118.5 603.5L1120.5 603.4L1122.5 603.5L1124.5 603.6L1126.5 603.6L1128.5 603.6L1130.5 603.5L1132.5 603.5L1134.5 603.4L1136.5 603.5L1138.5 603.3L1140.5 603.4L1142.5 603.3L1144.5 603.2L1146.5 603.1L1148.5 603.3L1150.5 603.2L1152.5 603.2L1154.5 603.3L1156.5 603.1L1158.5 603.1L1160.5 603.1L1162.5 603.1L1164.5 603.1L1166.5 603.1L1168.5 603.0L1170.5 602.9L1172.5 602.8L1174.5 602.9L1176.5 602.9L1178.5 602.9L1180.5 602.8L1182.5 602.7L1184.5 602.8L1186.5 602.8L1188.5 602.6L1190.5 602.6L1192.5 602.7L1194.5 602.6L1196.5 602.5L1198.5 602.4L1200.5 602.5L1202.5 602.6L1204.5 602.4L1206.5 602.3L1208.5 602.2L1210.5 602.2L1212.5 602.3L1214.5 602.2L1216.5 601.2L1218.5 600.2L1220.5 599.3L1222.5 599.1L1224.5 598.8L1226.5 598.8L1228.5 598.5L1230.5 598.3L1232.5 598.3L1234.5 598.2L1236.5 598.0L1238.5 597.8L1240.5 597.5L1242.5 597.4L1244.5 597.1L1246.5 596.6L1248.5 596.2L1250.5 595.6L1252.5 595.2L1254.5 594.9L1256.5 594.5L1258.5 594.1L1260.5 593.8L1262.5 593.7L1264.5 593.5L1266.5 593.5L1268.5 593.4L1270.5 593.4L1272.5 593.4L1274.5 593.3L1276.5 593.2L1278.5 593.1L1280.5 593.0L1282.5 592.8L1284.5 592.8L1286.5 592.8L1288.5 592.8L1290.5 592.7L1292.5 592.7L1294.5 592.6L1296.5 592.5L1298.5 592.3L1300.5 592.1L1302.5 592.1L1304.5 591.9L1306.5 591.8L1308.5 591.9L1310.5 591.8L1312.5 591.8L1314.5 591.6L1316.5 591.5L1318.5 591.4L1320.5 591.4L1322.5 591.5L1324.5 591.6L1326.5 591.7L1328.5 591.6L1330.5 591.7L1332.5 591.8L1334.5 591.8L1336.5 591.8L1338.5 592.0L1340.5 591.8L1342.5 591.9L1344.5 591.8L1346.5 592.0L1348.5 592.2L1350.5 592.2L1352.5 592.1L1354.5 592.1L1356.5 592.2L1358.5 592.3L1360.5 592.3L1362.5 591.9L1364.5 591.2L1366.5 590.5L1368.5 589.7L1370.5 589.2L1372.5 588.4L1374.5 587.7L1376.5 587.0L1378.5 586.9L1380.5 586.7L1382.5 586.9L1384.5 586.8L1386.5 586.7L1388.5 586.7L1390.5 586.7L1392.5 585.7L1394.5 584.6L1396.5 583.5L1398.5 582.4L1400.5 582.0L1402.5 581.9L1404.5 581.8L1406.5 581.9L1408.5 582.0L1410.5 581.9L1412.5 581.8L1414.5 581.9L1416.5 581.8L1418.5 581.6L1420.5 581.5L1422.5 581.6L1424.5 581.7L1426.5 581.6L1428.5 581.5L1430.5 581.5L1432.5 581.4L1434.5 581.5L1436.5 581.4L1438.5 581.3L1440.5 581.2L1442.5 581.0L1444.5 580.8L1446.5 580.5L1448.5 580.3L1450.5 580.0L1452.5 579.9L1454.5 579.7L1456.5 579.6L1458.5 579.3L1460.5 579.0L1462.5 578.8L1464.5 578.6L1466.5 578.4L1468.5 578.1L1470.5 578.1L1472.5 577.9L1474.5 577.7L1476.5 577.6L1478.5 577.5L1480.5 577.3L1482.5 577.3L1484.5 577.2L1486.5 577.0L1488.5 576.9L1490.5 576.9L1492.5 576.5L1494.5 576.5L1496.5 576.4L1498.5 576.2L1500.5 575.7L1502.5 575.5L1504.5 575.3L1506.5 574.8L1508.5 574.4L1510.5 574.4L1512.5 574.1L1514.5 573.8L1516.5 573.4L1518.5 572.5L1520.5 571.6L1522.5 570.9L1524.5 570.0L1526.5 569.0L1528.5 568.3L1530.5 568.9L1532.5 569.3L1534.5 569.9L1536.5 570.5L1538.5 571.0L1540.5 571.5L1542.5 572.1L1544.5 572.4L1546.5 572.0L1548.5 571.4L1550.5 571.0L1552.5 570.5L1554.5 570.1L1556.5 569.7L1558.5 572.1L1564.5 572.1L1564.5 619.0Z"/>
<path id="L3" d="M662.5 619.0L662.5 611.0L664.5 610.9L666.5 610.9L668.5 610.9L670.5 610.8L672.5 610.8L674.5 610.7L676.5 610.7L678.5 610.7L680.5 610.6L682.5 610.6L684.5 610.6L686.5 610.5L688.5 610.5L690.5 610.5L692.5 610.4L694.5 610.4L696.5 610.4L698.5 610.3L700.5 610.3L702.5 610.2L704.5 610.1L706.5 610.0L708.5 609.9L710.5 609.8L712.5 609.7L714.5 609.6L716.5 609.6L718.5 609.4L720.5 609.4L722.5 609.3L724.5 609.2L726.5 609.1L728.5 609.0L730.5 608.9L732.5 608.8L734.5 608.7L736.5 608.6L738.5 608.6L740.5 608.6L742.5 608.6L744.5 608.5L746.5 608.4L748.5 608.4L750.5 608.3L752.5 608.3L754.5 608.3L756.5 608.2L758.5 608.2L760.5 608.1L762.5 608.1L764.5 608.1L766.5 608.0L768.5 608.0L770.5 608.0L772.5 607.9L774.5 607.9L776.5 607.8L778.5 607.7L780.5 607.6L782.5 607.6L784.5 607.5L786.5 607.5L788.5 607.4L790.5 607.3L792.5 607.1L794.5 607.1L796.5 607.1L798.5 607.0L800.5 606.9L802.5 606.9L804.5 606.9L806.5 606.8L808.5 606.6L810.5 606.6L812.5 606.5L814.5 606.4L816.5 606.3L818.5 606.2L820.5 606.1L822.5 606.1L824.5 605.9L826.5 605.8L828.5 605.8L830.5 605.6L832.5 605.5L834.5 605.5L836.5 605.4L838.5 605.3L840.5 605.3L842.5 605.1L844.5 604.9L846.5 604.8L848.5 604.6L850.5 604.7L852.5 604.7L854.5 604.6L856.5 604.3L858.5 604.4L860.5 604.3L862.5 604.2L864.5 604.1L866.5 604.0L868.5 603.8L870.5 603.6L872.5 603.5L874.5 603.3L876.5 603.2L878.5 603.3L880.5 603.3L882.5 603.3L884.5 603.2L886.5 603.0L888.5 602.9L890.5 602.8L892.5 602.9L894.5 602.7L896.5 602.6L898.5 602.6L900.5 602.6L902.5 602.4L904.5 602.4L906.5 602.1L908.5 602.0L910.5 601.9L912.5 602.0L914.5 602.2L916.5 602.4L918.5 602.3L920.5 602.5L922.5 602.5L924.5 602.5L926.5 602.8L928.5 602.9L930.5 603.0L932.5 603.1L934.5 603.3L936.5 603.3L938.5 603.4L940.5 603.5L942.5 603.5L944.5 603.4L946.5 603.4L948.5 603.4L950.5 603.3L952.5 603.2L954.5 603.3L956.5 603.2L958.5 603.3L960.5 603.2L962.5 603.1L964.5 603.1L966.5 603.3L968.5 603.3L970.5 603.4L972.5 603.5L974.5 603.6L976.5 603.8L978.5 604.0L980.5 604.2L982.5 604.4L984.5 604.4L986.5 604.6L988.5 604.7L990.5 604.9L992.5 605.4L994.5 606.0L996.5 606.4L998.5 606.9L1000.5 606.9L1002.5 606.9L1004.5 606.8L1006.5 606.8L1008.5 606.7L1010.5 606.7L1012.5 606.8L1014.5 606.9L1016.5 606.9L1018.5 606.9L1020.5 606.9L1022.5 606.9L1024.5 606.8L1026.5 606.8L1028.5 606.9L1030.5 606.8L1032.5 606.8L1034.5 606.9L1036.5 606.8L1038.5 606.8L1040.5 606.8L1042.5 606.9L1044.5 606.9L1046.5 606.9L1048.5 607.0L1050.5 607.0L1052.5 607.0L1054.5 607.0L1056.5 606.9L1058.5 607.0L1060.5 607.0L1062.5 607.0L1064.5 607.0L1066.5 607.0L1068.5 607.0L1070.5 607.0L1072.5 607.1L1074.5 607.0L1076.5 607.1L1078.5 607.0L1080.5 607.0L1082.5 607.0L1084.5 607.0L1086.5 607.1L1088.5 607.0L1090.5 607.1L1092.5 607.1L1094.5 607.1L1096.5 607.1L1098.5 607.1L1100.5 607.1L1102.5 607.2L1104.5 607.1L1106.5 607.2L1108.5 607.1L1110.5 607.1L1112.5 607.2L1114.5 607.2L1116.5 607.1L1118.5 607.2L1120.5 607.1L1122.5 607.2L1124.5 607.2L1126.5 607.3L1128.5 607.3L1130.5 607.2L1132.5 607.2L1134.5 607.2L1136.5 607.3L1138.5 607.2L1140.5 607.3L1142.5 607.2L1144.5 607.2L1146.5 607.2L1148.5 607.3L1150.5 607.3L1152.5 607.3L1154.5 607.3L1156.5 607.3L1158.5 607.3L1160.5 607.3L1162.5 607.3L1164.5 607.3L1166.5 607.2L1168.5 607.1L1170.5 607.0L1172.5 606.9L1174.5 607.0L1176.5 606.9L1178.5 606.9L1180.5 606.8L1182.5 606.7L1184.5 606.7L1186.5 606.7L1188.5 606.6L1190.5 606.5L1192.5 606.6L1194.5 606.5L1196.5 606.4L1198.5 606.3L1200.5 606.3L1202.5 606.3L1204.5 606.2L1206.5 606.1L1208.5 606.1L1210.5 606.0L1212.5 606.0L1214.5 605.9L1216.5 605.8L1218.5 605.6L1220.5 605.6L1222.5 605.5L1224.5 605.3L1226.5 605.3L1228.5 605.0L1230.5 604.9L1232.5 604.9L1234.5 604.8L1236.5 604.7L1238.5 604.5L1240.5 604.2L1242.5 604.2L1244.5 603.9L1246.5 603.5L1248.5 603.1L1250.5 602.6L1252.5 602.2L1254.5 602.0L1256.5 601.7L1258.5 601.2L1260.5 601.0L1262.5 600.9L1264.5 600.7L1266.5 600.7L1268.5 600.6L1270.5 600.7L1272.5 600.7L1274.5 600.5L1276.5 600.5L1278.5 600.4L1280.5 600.3L1282.5 600.1L1284.5 600.2L1286.5 600.2L1288.5 600.1L1290.5 600.1L1292.5 600.0L1294.5 599.9L1296.5 599.8L1298.5 599.7L1300.5 599.5L1302.5 599.5L1304.5 599.3L1306.5 599.3L1308.5 599.3L1310.5 599.3L1312.5 599.2L1314.5 599.0L1316.5 599.0L1318.5 598.9L1320.5 598.9L1322.5 598.8L1324.5 598.8L1326.5 598.9L1328.5 598.7L1330.5 598.7L1332.5 598.7L1334.5 598.6L1336.5 598.5L1338.5 598.6L1340.5 598.4L1342.5 598.4L1344.5 598.2L1346.5 598.3L1348.5 598.4L1350.5 598.3L1352.5 598.1L1354.5 598.1L1356.5 598.1L1358.5 598.1L1360.5 598.1L1362.5 597.8L1364.5 597.5L1366.5 597.1L1368.5 596.7L1370.5 596.4L1372.5 595.9L1374.5 595.6L1376.5 595.2L1378.5 594.9L1380.5 594.8L1382.5 595.2L1384.5 595.3L1386.5 595.3L1388.5 595.5L1390.5 595.7L1392.5 594.8L1394.5 593.6L1396.5 592.5L1398.5 591.4L1400.5 591.1L1402.5 591.1L1404.5 591.1L1406.5 591.2L1408.5 591.4L1410.5 591.4L1412.5 591.3L1414.5 591.5L1416.5 591.5L1418.5 591.4L1420.5 591.4L1422.5 591.6L1424.5 591.7L1426.5 591.8L1428.5 591.8L1430.5 591.8L1432.5 591.7L1434.5 591.9L1436.5 591.9L1438.5 591.9L1440.5 591.9L1442.5 591.9L1444.5 591.7L1446.5 591.6L1448.5 591.5L1450.5 591.3L1452.5 591.4L1454.5 591.3L1456.5 591.3L1458.5 591.1L1460.5 591.0L1462.5 590.9L1464.5 590.8L1466.5 590.7L1468.5 590.5L1470.5 590.6L1472.5 590.4L1474.5 590.3L1476.5 590.2L1478.5 590.1L1480.5 590.0L1482.5 590.0L1484.5 589.9L1486.5 589.8L1488.5 589.8L1490.5 589.7L1492.5 589.4L1494.5 589.4L1496.5 589.4L1498.5 589.2L1500.5 588.8L1502.5 588.6L1504.5 588.4L1506.5 588.0L1508.5 587.6L1510.5 587.6L1512.5 587.4L1514.5 587.0L1516.5 586.7L1518.5 586.2L1520.5 585.7L1522.5 585.4L1524.5 584.9L1526.5 584.3L1528.5 584.0L1530.5 584.5L1532.5 584.7L1534.5 585.2L1536.5 585.5L1538.5 585.9L1540.5 586.3L1542.5 586.7L1544.5 586.9L1546.5 586.7L1548.5 586.3L1550.5 586.1L1552.5 585.8L1554.5 585.6L1556.5 585.3L1558.5 586.6L1564.5 586.6L1564.5 619.0Z"/>
<path id="L4" d="M710.5 619.0L710.5 611.0L712.5 610.9L714.5 610.8L716.5 610.7L718.5 610.7L720.5 610.6L722.5 610.5L724.5 610.4L726.5 610.3L728.5 610.2L730.5 610.1L732.5 610.0L734.5 609.9L736.5 609.9L738.5 609.8L740.5 609.8L742.5 609.8L744.5 609.7L746.5 609.7L748.5 609.6L750.5 609.6L752.5 609.5L754.5 609.5L756.5 609.4L758.5 609.4L760.5 609.4L762.5 609.3L764.5 609.3L766.5 609.3L768.5 609.2L770.5 609.2L772.5 609.1L774.5 609.1L776.5 609.0L778.5 608.9L780.5 608.8L782.5 608.8L784.5 608.7L786.5 608.7L788.5 608.6L790.5 608.5L792.5 608.4L794.5 608.3L796.5 608.3L798.5 608.2L800.5 608.1L802.5 608.1L804.5 608.0L806.5 608.0L808.5 607.8L810.5 607.8L812.5 607.7L814.5 607.6L816.5 607.5L818.5 607.4L820.5 607.3L822.5 607.3L824.5 607.1L826.5 607.0L828.5 607.0L830.5 606.9L832.5 606.7L834.5 606.7L836.5 606.6L838.5 606.5L840.5 606.5L842.5 606.3L844.5 606.2L846.5 606.0L848.5 605.9L850.5 605.9L852.5 605.9L854.5 605.8L856.5 605.6L858.5 605.5L860.5 605.5L862.5 605.3L864.5 605.3L866.5 605.2L868.5 605.0L870.5 604.8L872.5 604.7L874.5 604.5L876.5 604.5L878.5 604.5L880.5 604.5L882.5 604.5L884.5 604.4L886.5 604.2L888.5 604.1L890.5 604.0L892.5 604.0L894.5 603.9L896.5 603.8L898.5 603.8L900.5 603.8L902.5 603.6L904.5 603.6L906.5 603.3L908.5 603.2L910.5 603.1L912.5 603.2L914.5 603.4L916.5 603.5L918.5 603.5L920.5 603.7L922.5 603.7L924.5 603.7L926.5 604.0L928.5 604.0L930.5 604.2L932.5 604.3L934.5 604.4L936.5 604.4L938.5 604.6L940.5 604.6L942.5 604.7L944.5 604.6L946.5 604.6L948.5 604.6L950.5 604.5L952.5 604.4L954.5 604.5L956.5 604.4L958.5 604.5L960.5 604.4L962.5 604.3L964.5 604.3L966.5 604.5L968.5 604.6L970.5 604.6L972.5 604.7L974.5 604.8L976.5 605.1L978.5 605.3L980.5 605.4L982.5 605.6L984.5 605.6L986.5 605.8L988.5 605.9L990.5 606.1L992.5 606.6L994.5 607.1L996.5 607.6L998.5 608.0L1000.5 608.1L1002.5 608.1L1004.5 608.0L1006.5 608.0L1008.5 608.0L1010.5 608.0L1012.5 608.0L1014.5 608.1L1016.5 608.1L1018.5 608.1L1020.5 608.1L1022.5 608.1L1024.5 608.0L1026.5 608.0L1028.5 608.1L1030.5 608.1L1032.5 608.1L1034.5 608.1L1036.5 608.0L1038.5 608.1L1040.5 608.1L1042.5 608.1L1044.5 608.1L1046.5 608.1L1048.5 608.2L1050.5 608.2L1052.5 608.2L1054.5 608.2L1056.5 608.2L1058.5 608.2L1060.5 608.2L1062.5 608.2L1064.5 608.2L1066.5 608.2L1068.5 608.2L1070.5 608.2L1072.5 608.3L1074.5 608.2L1076.5 608.3L1078.5 608.2L1080.5 608.2L1082.5 608.2L1084.5 608.3L1086.5 608.3L1088.5 608.3L1090.5 608.3L1092.5 608.3L1094.5 608.3L1096.5 608.3L1098.5 608.3L1100.5 608.3L1102.5 608.3L1104.5 608.3L1106.5 608.4L1108.5 608.3L1110.5 608.3L1112.5 608.4L1114.5 608.4L1116.5 608.3L1118.5 608.4L1120.5 608.3L1122.5 608.4L1124.5 608.4L1126.5 608.4L1128.5 608.4L1130.5 608.4L1132.5 608.4L1134.5 608.4L1136.5 608.5L1138.5 608.4L1140.5 608.5L1142.5 608.4L1144.5 608.4L1146.5 608.4L1148.5 608.5L1150.5 608.5L1152.5 608.5L1154.5 608.5L1156.5 608.5L1158.5 608.5L1160.5 608.5L1162.5 608.5L1164.5 608.4L1166.5 608.4L1168.5 608.3L1170.5 608.2L1172.5 608.2L1174.5 608.2L1176.5 608.1L1178.5 608.1L1180.5 608.0L1182.5 608.0L1184.5 607.9L1186.5 607.9L1188.5 607.8L1190.5 607.8L1192.5 607.8L1194.5 607.7L1196.5 607.6L1198.5 607.5L1200.5 607.5L1202.5 607.5L1204.5 607.4L1206.5 607.3L1208.5 607.3L1210.5 607.2L1212.5 607.2L1214.5 607.1L1216.5 607.0L1218.5 606.9L1220.5 606.8L1222.5 606.7L1224.5 606.5L1226.5 606.5L1228.5 606.2L1230.5 606.1L1232.5 606.1L1234.5 606.0L1236.5 605.8L1238.5 605.7L1240.5 605.4L1242.5 605.4L1244.5 605.1L1246.5 604.7L1248.5 604.3L1250.5 603.8L1252.5 603.5L1254.5 603.2L1256.5 602.9L1258.5 602.4L1260.5 602.2L1262.5 602.1L1264.5 601.9L1266.5 601.9L1268.5 601.8L1270.5 601.9L1272.5 601.9L1274.5 601.7L1276.5 601.7L1278.5 601.6L1280.5 601.5L1282.5 601.3L1284.5 601.4L1286.5 601.4L1288.5 601.3L1290.5 601.3L1292.5 601.2L1294.5 601.1L1296.5 601.0L1298.5 600.9L1300.5 600.7L1302.5 600.7L1304.5 600.5L1306.5 600.5L1308.5 600.5L1310.5 600.5L1312.5 600.4L1314.5 600.2L1316.5 600.2L1318.5 600.1L1320.5 600.1L1322.5 600.0L1324.5 600.0L1326.5 600.1L1328.5 599.9L1330.5 599.9L1332.5 599.9L1334.5 599.8L1336.5 599.7L1338.5 599.8L1340.5 599.6L1342.5 599.6L1344.5 599.4L1346.5 599.5L1348.5 599.6L1350.5 599.5L1352.5 599.3L1354.5 599.3L1356.5 599.3L1358.5 599.3L1360.5 599.3L1362.5 599.0L1364.5 598.7L1366.5 598.3L1368.5 597.9L1370.5 597.6L1372.5 597.1L1374.5 596.8L1376.5 596.4L1378.5 596.1L1380.5 596.0L1382.5 596.4L1384.5 596.5L1386.5 596.5L1388.5 596.7L1390.5 596.9L1392.5 596.0L1394.5 594.8L1396.5 593.7L1398.5 592.6L1400.5 592.3L1402.5 592.3L1404.5 592.3L1406.5 592.4L1408.5 592.6L1410.5 592.6L1412.5 592.5L1414.5 592.7L1416.5 592.7L1418.5 592.6L1420.5 592.6L1422.5 592.8L1424.5 592.9L1426.5 593.0L1428.5 593.0L1430.5 593.0L1432.5 592.9L1434.5 593.1L1436.5 593.1L1438.5 593.1L1440.5 593.1L1442.5 593.1L1444.5 592.9L1446.5 592.8L1448.5 592.7L1450.5 592.5L1452.5 592.6L1454.5 592.5L1456.5 592.5L1458.5 592.3L1460.5 592.2L1462.5 592.1L1464.5 592.0L1466.5 591.9L1468.5 591.7L1470.5 591.8L1472.5 591.6L1474.5 591.5L1476.5 591.4L1478.5 591.3L1480.5 591.2L1482.5 591.2L1484.5 591.1L1486.5 591.0L1488.5 591.0L1490.5 590.9L1492.5 590.6L1494.5 590.6L1496.5 590.6L1498.5 590.4L1500.5 590.0L1502.5 589.8L1504.5 589.6L1506.5 589.2L1508.5 588.8L1510.5 588.8L1512.5 588.6L1514.5 588.2L1516.5 587.9L1518.5 587.4L1520.5 586.9L1522.5 586.6L1524.5 586.1L1526.5 585.5L1528.5 585.2L1530.5 585.7L1532.5 585.9L1534.5 586.4L1536.5 586.7L1538.5 587.1L1540.5 587.5L1542.5 587.9L1544.5 588.1L1546.5 587.9L1548.5 587.5L1550.5 587.3L1552.5 587.0L1554.5 586.8L1556.5 586.5L1558.5 587.8L1564.5 587.8L1564.5 619.0Z"/>
<path id="L5" d="M710.5 619.0L710.5 611.0L712.5 610.9L714.5 610.9L716.5 610.8L718.5 610.8L720.5 610.8L722.5 610.8L724.5 610.8L726.5 610.7L728.5 610.7L730.5 610.7L732.5 610.7L734.5 610.7L736.5 610.6L738.5 610.6L740.5 610.6L742.5 610.6L744.5 610.6L746.5 610.5L748.5 610.5L750.5 610.5L752.5 610.5L754.5 610.5L756.5 610.4L758.5 610.4L760.5 610.4L762.5 610.4L764.5 610.4L766.5 610.3L768.5 610.3L770.5 610.3L772.5 610.3L774.5 610.3L776.5 610.2L778.5 610.2L780.5 610.2L782.5 610.1L784.5 610.1L786.5 610.1L788.5 610.0L790.5 610.0L792.5 609.9L794.5 609.9L796.5 609.8L798.5 609.8L800.5 609.7L802.5 609.7L804.5 609.6L806.5 609.6L808.5 609.5L810.5 609.5L812.5 609.5L814.5 609.4L816.5 609.4L818.5 609.3L820.5 609.3L822.5 609.2L824.5 609.2L826.5 609.1L828.5 609.1L830.5 609.0L832.5 609.0L834.5 609.0L836.5 608.9L838.5 608.9L840.5 608.8L842.5 608.8L844.5 608.7L846.5 608.7L848.5 608.6L850.5 608.6L852.5 608.6L854.5 608.5L856.5 608.5L858.5 608.5L860.5 608.4L862.5 608.4L864.5 608.4L866.5 608.3L868.5 608.3L870.5 608.3L872.5 608.2L874.5 608.2L876.5 608.2L878.5 608.1L880.5 608.1L882.5 608.1L884.5 608.0L886.5 608.0L888.5 608.0L890.5 607.9L892.5 607.9L894.5 607.9L896.5 607.9L898.5 607.8L900.5 607.8L902.5 607.8L904.5 607.7L906.5 607.7L908.5 607.7L910.5 607.6L912.5 607.6L914.5 607.6L916.5 607.6L918.5 607.6L920.5 607.7L922.5 607.7L924.5 607.7L926.5 607.7L928.5 607.7L930.5 607.7L932.5 607.7L934.5 607.8L936.5 607.8L938.5 607.8L940.5 607.8L942.5 607.8L944.5 607.8L946.5 607.9L948.5 607.9L950.5 607.9L952.5 607.9L954.5 607.9L956.5 607.9L958.5 607.9L960.5 608.0L962.5 608.0L964.5 608.0L966.5 608.0L968.5 608.1L970.5 608.1L972.5 608.2L974.5 608.3L976.5 608.4L978.5 608.4L980.5 608.5L982.5 608.6L984.5 608.7L986.5 608.8L988.5 608.8L990.5 608.9L992.5 609.0L994.5 609.1L996.5 609.1L998.5 609.2L1000.5 609.2L1002.5 609.2L1004.5 609.2L1006.5 609.2L1008.5 609.2L1010.5 609.2L1012.5 609.2L1014.5 609.2L1016.5 609.2L1018.5 609.2L1020.5 609.2L1022.5 609.2L1024.5 609.2L1026.5 609.2L1028.5 609.2L1030.5 609.2L1032.5 609.2L1034.5 609.2L1036.5 609.2L1038.5 609.2L1040.5 609.3L1042.5 609.3L1044.5 609.3L1046.5 609.3L1048.5 609.3L1050.5 609.3L1052.5 609.3L1054.5 609.3L1056.5 609.3L1058.5 609.3L1060.5 609.3L1062.5 609.3L1064.5 609.3L1066.5 609.3L1068.5 609.3L1070.5 609.3L1072.5 609.3L1074.5 609.3L1076.5 609.3L1078.5 609.3L1080.5 609.3L1082.5 609.3L1084.5 609.3L1086.5 609.3L1088.5 609.3L1090.5 609.3L1092.5 609.3L1094.5 609.3L1096.5 609.3L1098.5 609.3L1100.5 609.3L1102.5 609.3L1104.5 609.3L1106.5 609.3L1108.5 609.3L1110.5 609.3L1112.5 609.3L1114.5 609.3L1116.5 609.3L1118.5 609.3L1120.5 609.4L1122.5 609.4L1124.5 609.4L1126.5 609.4L1128.5 609.4L1130.5 609.4L1132.5 609.4L1134.5 609.4L1136.5 609.4L1138.5 609.4L1140.5 609.4L1142.5 609.4L1144.5 609.4L1146.5 609.4L1148.5 609.4L1150.5 609.4L1152.5 609.4L1154.5 609.4L1156.5 609.4L1158.5 609.4L1160.5 609.4L1162.5 609.3L1164.5 609.3L1166.5 609.3L1168.5 609.2L1170.5 609.2L1172.5 609.1L1174.5 609.1L1176.5 609.0L1178.5 609.0L1180.5 609.0L1182.5 608.9L1184.5 608.9L1186.5 608.8L1188.5 608.8L1190.5 608.7L1192.5 608.7L1194.5 608.6L1196.5 608.6L1198.5 608.6L1200.5 608.5L1202.5 608.5L1204.5 608.4L1206.5 608.4L1208.5 608.3L1210.5 608.3L1212.5 608.2L1214.5 608.2L1216.5 608.1L1218.5 608.0L1220.5 607.9L1222.5 607.7L1224.5 607.6L1226.5 607.5L1228.5 607.4L1230.5 607.2L1232.5 607.1L1234.5 607.0L1236.5 606.9L1238.5 606.8L1240.5 606.6L1242.5 606.5L1244.5 606.4L1246.5 606.1L1248.5 605.7L1250.5 605.4L1252.5 605.0L1254.5 604.7L1256.5 604.3L1258.5 604.0L1260.5 603.8L1262.5 603.7L1264.5 603.7L1266.5 603.7L1268.5 603.6L1270.5 603.6L1272.5 603.5L1274.5 603.5L1276.5 603.5L1278.5 603.4L1280.5 603.4L1282.5 603.3L1284.5 603.3L1286.5 603.3L1288.5 603.2L1290.5 603.2L1292.5 603.1L1294.5 603.1L1296.5 603.1L1298.5 603.0L1300.5 603.0L1302.5 602.9L1304.5 602.9L1306.5 602.9L1308.5 602.8L1310.5 602.8L1312.5 602.7L1314.5 602.7L1316.5 602.7L1318.5 602.6L1320.5 602.6L1322.5 602.5L1324.5 602.5L1326.5 602.4L1328.5 602.4L1330.5 602.3L1332.5 602.2L1334.5 602.2L1336.5 602.1L1338.5 602.1L1340.5 602.0L1342.5 602.0L1344.5 601.9L1346.5 601.9L1348.5 601.8L1350.5 601.8L1352.5 601.7L1354.5 601.7L1356.5 601.6L1358.5 601.6L1360.5 601.5L1362.5 601.4L1364.5 601.2L1366.5 601.0L1368.5 600.8L1370.5 600.6L1372.5 600.4L1374.5 600.2L1376.5 600.0L1378.5 599.8L1380.5 599.8L1382.5 599.7L1384.5 599.7L1386.5 599.6L1388.5 599.6L1390.5 599.6L1392.5 599.5L1394.5 599.5L1396.5 599.4L1398.5 599.4L1400.5 599.4L1402.5 599.5L1404.5 599.5L1406.5 599.5L1408.5 599.6L1410.5 599.6L1412.5 599.7L1414.5 599.7L1416.5 599.7L1418.5 599.8L1420.5 599.8L1422.5 599.8L1424.5 599.8L1426.5 599.8L1428.5 599.8L1430.5 599.8L1432.5 599.8L1434.5 599.8L1436.5 599.8L1438.5 599.8L1440.5 599.7L1442.5 599.7L1444.5 599.6L1446.5 599.6L1448.5 599.6L1450.5 599.5L1452.5 599.5L1454.5 599.4L1456.5 599.4L1458.5 599.3L1460.5 599.3L1462.5 599.2L1464.5 599.2L1466.5 599.1L1468.5 599.1L1470.5 599.0L1472.5 599.0L1474.5 598.9L1476.5 598.9L1478.5 598.8L1480.5 598.8L1482.5 598.7L1484.5 598.7L1486.5 598.6L1488.5 598.6L1490.5 598.6L1492.5 598.5L1494.5 598.5L1496.5 598.4L1498.5 598.4L1500.5 598.3L1502.5 598.3L1504.5 598.2L1506.5 598.2L1508.5 598.1L1510.5 598.1L1512.5 598.0L1514.5 598.0L1516.5 597.9L1518.5 597.9L1520.5 597.8L1522.5 597.8L1524.5 597.7L1526.5 597.7L1528.5 597.6L1530.5 597.6L1532.5 597.7L1534.5 597.7L1536.5 597.8L1538.5 597.8L1540.5 597.8L1542.5 597.9L1544.5 597.9L1546.5 598.0L1548.5 598.0L1550.5 598.0L1552.5 598.1L1554.5 598.1L1556.5 598.2L1558.5 598.2L1564.5 598.2L1564.5 619.0Z"/>
<path id="L6" d="M1204.5 619.0L1204.5 611.0L1206.5 610.8L1208.5 610.5L1210.5 610.3L1212.5 610.0L1214.5 609.7L1216.5 609.5L1218.5 609.3L1220.5 609.1L1222.5 608.8L1224.5 608.6L1226.5 608.4L1228.5 608.2L1230.5 608.0L1232.5 607.7L1234.5 607.5L1236.5 607.3L1238.5 607.1L1240.5 606.9L1242.5 606.7L1244.5 606.6L1246.5 606.4L1248.5 606.2L1250.5 606.1L1252.5 605.9L1254.5 605.8L1256.5 605.6L1258.5 605.5L1260.5 605.4L1262.5 605.3L1264.5 605.3L1266.5 605.3L1268.5 605.2L1270.5 605.2L1272.5 605.2L1274.5 605.1L1276.5 605.1L1278.5 605.0L1280.5 605.0L1282.5 605.0L1284.5 604.9L1286.5 604.9L1288.5 604.9L1290.5 604.8L1292.5 604.8L1294.5 604.8L1296.5 604.7L1298.5 604.7L1300.5 604.6L1302.5 604.6L1304.5 604.6L1306.5 604.5L1308.5 604.5L1310.5 604.5L1312.5 604.4L1314.5 604.4L1316.5 604.3L1318.5 604.3L1320.5 604.3L1322.5 604.2L1324.5 604.2L1326.5 604.2L1328.5 604.1L1330.5 604.1L1332.5 604.0L1334.5 604.0L1336.5 604.0L1338.5 603.9L1340.5 603.9L1342.5 603.9L1344.5 603.8L1346.5 603.8L1348.5 603.7L1350.5 603.7L1352.5 603.7L1354.5 603.6L1356.5 603.6L1358.5 603.5L1360.5 603.5L1362.5 603.5L1364.5 603.4L1366.5 603.4L1368.5 603.3L1370.5 603.3L1372.5 603.2L1374.5 603.2L1376.5 603.2L1378.5 603.1L1380.5 603.1L1382.5 603.0L1384.5 603.0L1386.5 602.9L1388.5 602.9L1390.5 602.9L1392.5 602.8L1394.5 602.8L1396.5 602.7L1398.5 602.7L1400.5 602.6L1402.5 602.6L1404.5 602.5L1406.5 602.5L1408.5 602.5L1410.5 602.4L1412.5 602.4L1414.5 602.3L1416.5 602.3L1418.5 602.2L1420.5 602.2L1422.5 602.2L1424.5 602.1L1426.5 602.1L1428.5 602.1L1430.5 602.1L1432.5 602.0L1434.5 602.0L1436.5 602.0L1438.5 602.0L1440.5 601.9L1442.5 601.9L1444.5 601.9L1446.5 601.9L1448.5 601.8L1450.5 601.8L1452.5 601.8L1454.5 601.8L1456.5 601.7L1458.5 601.7L1460.5 601.7L1462.5 601.6L1464.5 601.6L1466.5 601.6L1468.5 601.6L1470.5 601.5L1472.5 601.5L1474.5 601.5L1476.5 601.5L1478.5 601.4L1480.5 601.4L1482.5 601.4L1484.5 601.4L1486.5 601.3L1488.5 601.3L1490.5 601.3L1492.5 601.3L1494.5 601.2L1496.5 601.2L1498.5 601.2L1500.5 601.2L1502.5 601.2L1504.5 601.2L1506.5 601.1L1508.5 601.1L1510.5 601.1L1512.5 601.1L1514.5 601.1L1516.5 601.1L1518.5 601.1L1520.5 601.0L1522.5 601.0L1524.5 601.0L1526.5 601.0L1528.5 601.0L1530.5 601.0L1532.5 601.0L1534.5 601.0L1536.5 600.9L1538.5 600.9L1540.5 600.9L1542.5 600.9L1544.5 600.9L1546.5 600.9L1548.5 600.9L1550.5 600.9L1552.5 600.8L1554.5 600.8L1556.5 600.8L1558.5 600.8L1564.5 600.8L1564.5 619.0Z"/>
<path id="L7" d="M1204.5 619.0L1204.5 611.0L1206.5 610.8L1208.5 610.6L1210.5 610.4L1212.5 610.2L1214.5 610.0L1216.5 609.8L1218.5 609.6L1220.5 609.4L1222.5 609.1L1224.5 608.9L1226.5 608.7L1228.5 608.5L1230.5 608.3L1232.5 608.0L1234.5 607.8L1236.5 607.6L1238.5 607.4L1240.5 607.2L1242.5 607.0L1244.5 606.9L1246.5 606.7L1248.5 606.5L1250.5 606.4L1252.5 606.2L1254.5 606.1L1256.5 605.9L1258.5 605.8L1260.5 605.7L1262.5 605.6L1264.5 605.6L1266.5 605.6L1268.5 605.5L1270.5 605.5L1272.5 605.5L1274.5 605.4L1276.5 605.4L1278.5 605.3L1280.5 605.3L1282.5 605.3L1284.5 605.2L1286.5 605.2L1288.5 605.2L1290.5 605.1L1292.5 605.1L1294.5 605.1L1296.5 605.0L1298.5 605.0L1300.5 604.9L1302.5 604.9L1304.5 604.9L1306.5 604.8L1308.5 604.8L1310.5 604.8L1312.5 604.7L1314.5 604.7L1316.5 604.6L1318.5 604.6L1320.5 604.6L1322.5 604.5L1324.5 604.5L1326.5 604.5L1328.5 604.4L1330.5 604.4L1332.5 604.3L1334.5 604.3L1336.5 604.3L1338.5 604.2L1340.5 604.2L1342.5 604.2L1344.5 604.1L1346.5 604.1L1348.5 604.0L1350.5 604.0L1352.5 604.0L1354.5 603.9L1356.5 603.9L1358.5 603.8L1360.5 603.8L1362.5 603.8L1364.5 603.7L1366.5 603.7L1368.5 603.6L1370.5 603.6L1372.5 603.5L1374.5 603.5L1376.5 603.5L1378.5 603.4L1380.5 603.4L1382.5 603.3L1384.5 603.3L1386.5 603.2L1388.5 603.2L1390.5 603.1L1392.5 603.1L1394.5 603.1L1396.5 603.0L1398.5 603.0L1400.5 602.9L1402.5 602.9L1404.5 602.8L1406.5 602.8L1408.5 602.8L1410.5 602.7L1412.5 602.7L1414.5 602.6L1416.5 602.6L1418.5 602.5L1420.5 602.5L1422.5 602.5L1424.5 602.4L1426.5 602.4L1428.5 602.4L1430.5 602.4L1432.5 602.3L1434.5 602.3L1436.5 602.3L1438.5 602.3L1440.5 602.2L1442.5 602.2L1444.5 602.2L1446.5 602.2L1448.5 602.1L1450.5 602.1L1452.5 602.1L1454.5 602.1L1456.5 602.0L1458.5 602.0L1460.5 602.0L1462.5 601.9L1464.5 601.9L1466.5 601.9L1468.5 601.9L1470.5 601.8L1472.5 601.8L1474.5 601.8L1476.5 601.8L1478.5 601.7L1480.5 601.7L1482.5 601.7L1484.5 601.7L1486.5 601.6L1488.5 601.6L1490.5 601.6L1492.5 601.6L1494.5 601.5L1496.5 601.5L1498.5 601.5L1500.5 601.5L1502.5 601.5L1504.5 601.5L1506.5 601.4L1508.5 601.4L1510.5 601.4L1512.5 601.4L1514.5 601.4L1516.5 601.4L1518.5 601.4L1520.5 601.3L1522.5 601.3L1524.5 601.3L1526.5 601.3L1528.5 601.3L1530.5 601.3L1532.5 601.3L1534.5 601.3L1536.5 601.2L1538.5 601.2L1540.5 601.2L1542.5 601.2L1544.5 601.2L1546.5 601.2L1548.5 601.2L1550.5 601.2L1552.5 601.1L1554.5 601.1L1556.5 601.1L1558.5 601.1L1564.5 601.1L1564.5 619.0Z"/>
<path id="L8" d="M1204.5 619.0L1204.5 611.0L1206.5 610.9L1208.5 610.9L1210.5 610.8L1212.5 610.7L1214.5 610.6L1216.5 610.5L1218.5 610.3L1220.5 610.2L1222.5 610.0L1224.5 609.9L1226.5 609.8L1228.5 609.6L1230.5 609.5L1232.5 609.3L1234.5 609.2L1236.5 609.0L1238.5 608.9L1240.5 608.8L1242.5 608.6L1244.5 608.5L1246.5 608.4L1248.5 608.3L1250.5 608.2L1252.5 608.0L1254.5 607.9L1256.5 607.8L1258.5 607.7L1260.5 607.6L1262.5 607.5L1264.5 607.5L1266.5 607.5L1268.5 607.4L1270.5 607.4L1272.5 607.4L1274.5 607.3L1276.5 607.3L1278.5 607.3L1280.5 607.2L1282.5 607.2L1284.5 607.2L1286.5 607.1L1288.5 607.1L1290.5 607.1L1292.5 607.0L1294.5 607.0L1296.5 607.0L1298.5 606.9L1300.5 606.9L1302.5 606.9L1304.5 606.8L1306.5 606.8L1308.5 606.8L1310.5 606.7L1312.5 606.7L1314.5 606.7L1316.5 606.6L1318.5 606.6L1320.5 606.6L1322.5 606.6L1324.5 606.5L1326.5 606.5L1328.5 606.5L1330.5 606.4L1332.5 606.4L1334.5 606.4L1336.5 606.4L1338.5 606.3L1340.5 606.3L1342.5 606.3L1344.5 606.2L1346.5 606.2L1348.5 606.2L1350.5 606.1L1352.5 606.1L1354.5 606.1L1356.5 606.1L1358.5 606.0L1360.5 606.0L1362.5 606.0L1364.5 606.0L1366.5 605.9L1368.5 605.9L1370.5 605.9L1372.5 605.9L1374.5 605.9L1376.5 605.8L1378.5 605.8L1380.5 605.8L1382.5 605.8L1384.5 605.8L1386.5 605.7L1388.5 605.7L1390.5 605.7L1392.5 605.7L1394.5 605.7L1396.5 605.6L1398.5 605.6L1400.5 605.6L1402.5 605.6L1404.5 605.6L1406.5 605.5L1408.5 605.5L1410.5 605.5L1412.5 605.5L1414.5 605.5L1416.5 605.4L1418.5 605.4L1420.5 605.4L1422.5 605.4L1424.5 605.4L1426.5 605.4L1428.5 605.4L1430.5 605.3L1432.5 605.3L1434.5 605.3L1436.5 605.3L1438.5 605.3L1440.5 605.3L1442.5 605.3L1444.5 605.3L1446.5 605.3L1448.5 605.3L1450.5 605.2L1452.5 605.2L1454.5 605.2L1456.5 605.2L1458.5 605.2L1460.5 605.2L1462.5 605.2L1464.5 605.2L1466.5 605.2L1468.5 605.1L1470.5 605.1L1472.5 605.1L1474.5 605.1L1476.5 605.1L1478.5 605.1L1480.5 605.1L1482.5 605.1L1484.5 605.1L1486.5 605.1L1488.5 605.0L1490.5 605.0L1492.5 605.0L1494.5 605.0L1496.5 605.0L1498.5 605.0L1500.5 605.0L1502.5 605.0L1504.5 605.0L1506.5 605.0L1508.5 605.0L1510.5 605.0L1512.5 604.9L1514.5 604.9L1516.5 604.9L1518.5 604.9L1520.5 604.9L1522.5 604.9L1524.5 604.9L1526.5 604.9L1528.5 604.9L1530.5 604.9L1532.5 604.9L1534.5 604.9L1536.5 604.9L1538.5 604.9L1540.5 604.9L1542.5 604.9L1544.5 604.8L1546.5 604.8L1548.5 604.8L1550.5 604.8L1552.5 604.8L1554.5 604.8L1556.5 604.8L1558.5 604.8L1564.5 604.8L1564.5 619.0Z"/>
<path id="L9" d="M1204.5 619.0L1204.5 611.0L1206.5 610.9L1208.5 610.9L1210.5 610.8L1212.5 610.7L1214.5 610.6L1216.5 610.5L1218.5 610.4L1220.5 610.3L1222.5 610.2L1224.5 610.1L1226.5 610.1L1228.5 610.0L1230.5 609.9L1232.5 609.9L1234.5 609.8L1236.5 609.7L1238.5 609.7L1240.5 609.6L1242.5 609.5L1244.5 609.5L1246.5 609.4L1248.5 609.3L1250.5 609.3L1252.5 609.2L1254.5 609.2L1256.5 609.1L1258.5 609.0L1260.5 609.0L1262.5 609.0L1264.5 608.9L1266.5 608.9L1268.5 608.9L1270.5 608.9L1272.5 608.9L1274.5 608.8L1276.5 608.8L1278.5 608.8L1280.5 608.8L1282.5 608.8L1284.5 608.7L1286.5 608.7L1288.5 608.7L1290.5 608.7L1292.5 608.7L1294.5 608.6L1296.5 608.6L1298.5 608.6L1300.5 608.6L1302.5 608.6L1304.5 608.5L1306.5 608.5L1308.5 608.5L1310.5 608.5L1312.5 608.5L1314.5 608.4L1316.5 608.4L1318.5 608.4L1320.5 608.4L1322.5 608.4L1324.5 608.4L1326.5 608.3L1328.5 608.3L1330.5 608.3L1332.5 608.3L1334.5 608.3L1336.5 608.3L1338.5 608.2L1340.5 608.2L1342.5 608.2L1344.5 608.2L1346.5 608.2L1348.5 608.2L1350.5 608.2L1352.5 608.1L1354.5 608.1L1356.5 608.1L1358.5 608.1L1360.5 608.1L1362.5 608.1L1364.5 608.0L1366.5 608.0L1368.5 608.0L1370.5 608.0L1372.5 608.0L1374.5 608.0L1376.5 607.9L1378.5 607.9L1380.5 607.9L1382.5 607.9L1384.5 607.9L1386.5 607.9L1388.5 607.8L1390.5 607.8L1392.5 607.8L1394.5 607.8L1396.5 607.8L1398.5 607.8L1400.5 607.8L1402.5 607.7L1404.5 607.7L1406.5 607.7L1408.5 607.7L1410.5 607.7L1412.5 607.7L1414.5 607.6L1416.5 607.6L1418.5 607.6L1420.5 607.6L1422.5 607.6L1424.5 607.6L1426.5 607.6L1428.5 607.6L1430.5 607.6L1432.5 607.6L1434.5 607.6L1436.5 607.6L1438.5 607.5L1440.5 607.5L1442.5 607.5L1444.5 607.5L1446.5 607.5L1448.5 607.5L1450.5 607.5L1452.5 607.5L1454.5 607.5L1456.5 607.5L1458.5 607.5L1460.5 607.5L1462.5 607.5L1464.5 607.5L1466.5 607.5L1468.5 607.5L1470.5 607.5L1472.5 607.4L1474.5 607.4L1476.5 607.4L1478.5 607.4L1480.5 607.4L1482.5 607.4L1484.5 607.4L1486.5 607.4L1488.5 607.4L1490.5 607.4L1492.5 607.4L1494.5 607.4L1496.5 607.4L1498.5 607.4L1500.5 607.4L1502.5 607.4L1504.5 607.4L1506.5 607.4L1508.5 607.3L1510.5 607.3L1512.5 607.3L1514.5 607.3L1516.5 607.3L1518.5 607.3L1520.5 607.3L1522.5 607.3L1524.5 607.3L1526.5 607.3L1528.5 607.3L1530.5 607.3L1532.5 607.3L1534.5 607.3L1536.5 607.3L1538.5 607.3L1540.5 607.3L1542.5 607.2L1544.5 607.2L1546.5 607.2L1548.5 607.2L1550.5 607.2L1552.5 607.2L1554.5 607.2L1556.5 607.2L1558.5 607.2L1564.5 607.2L1564.5 619.0Z"/>
<path id="L10" d="M1214.5 619.0L1214.5 611.0L1216.5 610.9L1218.5 610.9L1220.5 610.8L1222.5 610.7L1224.5 610.6L1226.5 610.5L1228.5 610.5L1230.5 610.4L1232.5 610.3L1234.5 610.2L1236.5 610.1L1238.5 610.1L1240.5 610.0L1242.5 610.0L1244.5 610.0L1246.5 610.0L1248.5 610.0L1250.5 609.9L1252.5 609.9L1254.5 609.9L1256.5 609.9L1258.5 609.9L1260.5 609.9L1262.5 609.9L1264.5 609.9L1266.5 609.9L1268.5 609.9L1270.5 609.8L1272.5 609.8L1274.5 609.8L1276.5 609.8L1278.5 609.8L1280.5 609.8L1282.5 609.8L1284.5 609.8L1286.5 609.8L1288.5 609.8L1290.5 609.8L1292.5 609.8L1294.5 609.7L1296.5 609.7L1298.5 609.7L1300.5 609.7L1302.5 609.7L1304.5 609.7L1306.5 609.7L1308.5 609.7L1310.5 609.7L1312.5 609.7L1314.5 609.7L1316.5 609.7L1318.5 609.7L1320.5 609.7L1322.5 609.6L1324.5 609.6L1326.5 609.6L1328.5 609.6L1330.5 609.6L1332.5 609.6L1334.5 609.6L1336.5 609.6L1338.5 609.6L1340.5 609.6L1342.5 609.6L1344.5 609.6L1346.5 609.6L1348.5 609.6L1350.5 609.5L1352.5 609.5L1354.5 609.5L1356.5 609.5L1358.5 609.5L1360.5 609.5L1362.5 609.5L1364.5 609.5L1366.5 609.5L1368.5 609.5L1370.5 609.5L1372.5 609.5L1374.5 609.5L1376.5 609.5L1378.5 609.4L1380.5 609.4L1382.5 609.4L1384.5 609.4L1386.5 609.4L1388.5 609.4L1390.5 609.4L1392.5 609.4L1394.5 609.4L1396.5 609.4L1398.5 609.4L1400.5 609.4L1402.5 609.4L1404.5 609.4L1406.5 609.3L1408.5 609.3L1410.5 609.3L1412.5 609.3L1414.5 609.3L1416.5 609.3L1418.5 609.3L1420.5 609.3L1422.5 609.3L1424.5 609.3L1426.5 609.3L1428.5 609.3L1430.5 609.3L1432.5 609.3L1434.5 609.3L1436.5 609.3L1438.5 609.3L1440.5 609.3L1442.5 609.3L1444.5 609.2L1446.5 609.2L1448.5 609.2L1450.5 609.2L1452.5 609.2L1454.5 609.2L1456.5 609.2L1458.5 609.2L1460.5 609.2L1462.5 609.2L1464.5 609.2L1466.5 609.2L1468.5 609.2L1470.5 609.2L1472.5 609.2L1474.5 609.2L1476.5 609.2L1478.5 609.2L1480.5 609.2L1482.5 609.2L1484.5 609.2L1486.5 609.2L1488.5 609.2L1490.5 609.1L1492.5 609.1L1494.5 609.1L1496.5 609.1L1498.5 609.1L1500.5 609.1L1502.5 609.1L1504.5 609.1L1506.5 609.1L1508.5 609.1L1510.5 609.1L1512.5 609.1L1514.5 609.1L1516.5 609.1L1518.5 609.1L1520.5 609.1L1522.5 609.1L1524.5 609.1L1526.5 609.1L1528.5 609.1L1530.5 609.1L1532.5 609.1L1534.5 609.1L1536.5 609.0L1538.5 609.0L1540.5 609.0L1542.5 609.0L1544.5 609.0L1546.5 609.0L1548.5 609.0L1550.5 609.0L1552.5 609.0L1554.5 609.0L1556.5 609.0L1558.5 609.0L1564.5 609.0L1564.5 619.0Z"/>
<path id="L11" d="M1216.5 619.0L1216.5 611.0L1218.5 610.9L1220.5 610.8L1222.5 610.8L1224.5 610.7L1226.5 610.7L1228.5 610.6L1230.5 610.6L1232.5 610.5L1234.5 610.5L1236.5 610.4L1238.5 610.3L1240.5 610.3L1242.5 610.3L1244.5 610.3L1246.5 610.3L1248.5 610.3L1250.5 610.3L1252.5 610.3L1254.5 610.3L1256.5 610.3L1258.5 610.3L1260.5 610.3L1262.5 610.2L1264.5 610.2L1266.5 610.2L1268.5 610.2L1270.5 610.2L1272.5 610.2L1274.5 610.2L1276.5 610.2L1278.5 610.2L1280.5 610.2L1282.5 610.2L1284.5 610.2L1286.5 610.2L1288.5 610.2L1290.5 610.2L1292.5 610.2L1294.5 610.2L1296.5 610.2L1298.5 610.2L1300.5 610.2L1302.5 610.2L1304.5 610.2L1306.5 610.2L1308.5 610.1L1310.5 610.1L1312.5 610.1L1314.5 610.1L1316.5 610.1L1318.5 610.1L1320.5 610.1L1322.5 610.1L1324.5 610.1L1326.5 610.1L1328.5 610.1L1330.5 610.1L1332.5 610.1L1334.5 610.1L1336.5 610.1L1338.5 610.1L1340.5 610.1L1342.5 610.1L1344.5 610.1L1346.5 610.1L1348.5 610.1L1350.5 610.1L1352.5 610.0L1354.5 610.0L1356.5 610.0L1358.5 610.0L1360.5 610.0L1362.5 610.0L1364.5 610.0L1366.5 610.0L1368.5 610.0L1370.5 610.0L1372.5 610.0L1374.5 610.0L1376.5 610.0L1378.5 610.0L1380.5 610.0L1382.5 610.0L1384.5 610.0L1386.5 610.0L1388.5 610.0L1390.5 610.0L1392.5 610.0L1394.5 610.0L1396.5 610.0L1398.5 609.9L1400.5 609.9L1402.5 609.9L1404.5 609.9L1406.5 609.9L1408.5 609.9L1410.5 609.9L1412.5 609.9L1414.5 609.9L1416.5 609.9L1418.5 609.9L1420.5 609.9L1422.5 609.9L1424.5 609.9L1426.5 609.9L1428.5 609.9L1430.5 609.9L1432.5 609.9L1434.5 609.9L1436.5 609.9L1438.5 609.9L1440.5 609.9L1442.5 609.9L1444.5 609.9L1446.5 609.9L1448.5 609.9L1450.5 609.9L1452.5 609.9L1454.5 609.9L1456.5 609.8L1458.5 609.8L1460.5 609.8L1462.5 609.8L1464.5 609.8L1466.5 609.8L1468.5 609.8L1470.5 609.8L1472.5 609.8L1474.5 609.8L1476.5 609.8L1478.5 609.8L1480.5 609.8L1482.5 609.8L1484.5 609.8L1486.5 609.8L1488.5 609.8L1490.5 609.8L1492.5 609.8L1494.5 609.8L1496.5 609.8L1498.5 609.8L1500.5 609.8L1502.5 609.8L1504.5 609.8L1506.5 609.8L1508.5 609.8L1510.5 609.8L1512.5 609.8L1514.5 609.8L1516.5 609.8L1518.5 609.8L1520.5 609.8L1522.5 609.8L1524.5 609.7L1526.5 609.7L1528.5 609.7L1530.5 609.7L1532.5 609.7L1534.5 609.7L1536.5 609.7L1538.5 609.7L1540.5 609.7L1542.5 609.7L1544.5 609.7L1546.5 609.7L1548.5 609.7L1550.5 609.7L1552.5 609.7L1554.5 609.7L1556.5 609.7L1558.5 609.7L1564.5 609.7L1564.5 619.0Z"/>
<path id="L12" d="M1220.5 619.0L1220.5 611.0L1222.5 610.9L1224.5 610.9L1226.5 610.9L1228.5 610.9L1230.5 610.9L1232.5 610.9L1234.5 610.9L1236.5 610.9L1238.5 610.9L1240.5 610.9L1242.5 610.9L1244.5 610.9L1246.5 610.9L1248.5 610.9L1250.5 610.9L1252.5 610.9L1254.5 610.9L1256.5 610.9L1258.5 610.9L1260.5 610.9L1262.5 610.9L1264.5 610.9L1266.5 610.9L1268.5 610.9L1270.5 610.9L1272.5 610.9L1274.5 610.9L1276.5 610.9L1278.5 610.9L1280.5 610.9L1282.5 610.9L1284.5 610.9L1286.5 610.9L1288.5 610.9L1290.5 610.9L1292.5 610.9L1294.5 610.9L1296.5 610.9L1298.5 610.9L1300.5 610.9L1302.5 610.9L1304.5 610.9L1306.5 610.9L1308.5 610.9L1310.5 610.9L1312.5 610.9L1314.5 610.9L1316.5 610.9L1318.5 610.9L1320.5 610.9L1322.5 610.9L1324.5 610.9L1326.5 610.9L1328.5 610.9L1330.5 610.9L1332.5 610.9L1334.5 610.9L1336.5 610.9L1338.5 610.9L1340.5 610.9L1342.5 610.9L1344.5 610.9L1346.5 610.9L1348.5 610.9L1350.5 610.9L1352.5 610.9L1354.5 610.9L1356.5 610.9L1358.5 610.9L1360.5 610.9L1362.5 610.9L1364.5 610.9L1366.5 610.9L1368.5 610.9L1370.5 610.9L1372.5 610.9L1374.5 610.9L1376.5 610.9L1378.5 610.9L1380.5 610.9L1382.5 610.9L1384.5 610.9L1386.5 610.9L1388.5 610.9L1390.5 610.9L1392.5 610.9L1394.5 610.9L1396.5 610.9L1398.5 610.9L1400.5 610.9L1402.5 610.9L1404.5 610.9L1406.5 610.9L1408.5 610.9L1410.5 610.9L1412.5 610.9L1414.5 610.9L1416.5 610.9L1418.5 610.9L1420.5 610.9L1422.5 610.9L1424.5 610.9L1426.5 610.9L1428.5 610.9L1430.5 610.9L1432.5 610.9L1434.5 610.9L1436.5 610.9L1438.5 610.9L1440.5 610.9L1442.5 610.9L1444.5 610.9L1446.5 610.9L1448.5 610.9L1450.5 610.9L1452.5 610.9L1454.5 610.9L1456.5 610.9L1458.5 610.9L1460.5 610.9L1462.5 610.9L1464.5 610.9L1466.5 610.9L1468.5 610.9L1470.5 610.9L1472.5 610.9L1474.5 610.9L1476.5 610.9L1478.5 610.9L1480.5 610.9L1482.5 610.9L1484.5 610.9L1486.5 610.9L1488.5 610.9L1490.5 610.9L1492.5 610.9L1494.5 610.9L1496.5 610.9L1498.5 610.9L1500.5 610.9L1502.5 610.9L1504.5 610.9L1506.5 610.9L1508.5 610.9L1510.5 610.9L1512.5 610.9L1514.5 610.9L1516.5 610.9L1518.5 610.9L1520.5 610.9L1522.5 610.9L1524.5 610.9L1526.5 610.9L1528.5 610.9L1530.5 610.9L1532.5 610.9L1534.5 610.9L1536.5 610.9L1538.5 610.9L1540.5 610.9L1542.5 610.9L1544.5 610.9L1546.5 610.9L1548.5 610.9L1550.5 610.9L1552.5 610.9L1554.5 610.9L1556.5 610.9L1558.5 610.9L1564.5 610.9L1564.5 619.0Z"/></defs>
<use href="#L0" fill="#a6b4f3" stroke="none"/>
<use href="#L1" fill="#f0747c" stroke="none"/>
<use href="#L2" fill="#f8d98c" stroke="none"/>
<use href="#L3" fill="#b48ff0" stroke="none"/>
<use href="#L4" fill="#7ef2c4" stroke="none"/>
<use href="#L5" fill="#5db48c" stroke="none"/>
<use href="#L6" fill="#fdb698" stroke="none"/>
<use href="#L7" fill="#90c4f0" stroke="none"/>
<use href="#L8" fill="#ee5560" stroke="none"/>
<use href="#L9" fill="#f4525c" stroke="none"/>
<use href="#L10" fill="#f6d68a" stroke="none"/>
<use href="#L11" fill="#a890ea" stroke="none"/>
<use href="#L12" fill="#f5896a" stroke="none"/>
<use href="#L12" fill="none" stroke="#f5896a"/>
<use href="#L11" fill="none" stroke="#7a4fe0" stroke-width="0.7"/>
<use href="#L10" fill="none" stroke="#f2c04c" stroke-width="0.8"/>
<use href="#L9" fill="none" stroke="#f4101e"/>
<use href="#L8" fill="none" stroke="#e62a35"/>
<use href="#L7" fill="none" stroke="#7fbcf0"/>
<use href="#L6" fill="none" stroke="#fc8452" stroke-width="0"/>
<use href="#L5" fill="none" stroke="#35a070"/>
<use href="#L4" fill="none" stroke="#1fe89a"/>
<use href="#L3" fill="none" stroke="#7d3fe6"/>
<use href="#L2" fill="none" stroke="#f4b62c"/>
<path d="M872 611H1242" fill="none" stroke="#ee2a3a"/>
<use href="#L1" fill="none" stroke="#e4000f"/>
<use href="#L0" fill="none" stroke="#5c78e8"/>
</g>
<g font-size="12" fill="#8f9ebf">
<circle cx="152.00" cy="298.7" r="4.85" fill="#627eea"/>
<text x="162.50" y="300.9" textLength="53.75" lengthAdjust="spacingAndGlyphs">Ethereum</text>
<circle cx="229.50" cy="298.7" r="4.85" fill="#eb0014"/>
<text x="240.00" y="300.9" textLength="32.50" lengthAdjust="spacingAndGlyphs">TRON</text>
<circle cx="286.25" cy="298.7" r="4.85" fill="#f3ba2f"/>
<text x="296.25" y="300.9" textLength="59.25" lengthAdjust="spacingAndGlyphs">BNB Chain</text>
<circle cx="369.50" cy="298.7" r="4.85" fill="#8247e5"/>
<text x="379.50" y="300.9" textLength="45.50" lengthAdjust="spacingAndGlyphs">Polygon</text>
<circle cx="438.00" cy="298.7" r="4.85" fill="#14f195"/>
<text x="448.00" y="300.9" textLength="37.75" lengthAdjust="spacingAndGlyphs">Solana</text>
<circle cx="499.25" cy="298.7" r="4.85" fill="#3ba272"/>
<text x="509.50" y="300.9" textLength="34.25" lengthAdjust="spacingAndGlyphs">Stellar</text>
<circle cx="556.75" cy="298.7" r="4.85" fill="#fc8452"/>
<g fill="rgba(215,85,35,.45)"><circle cx="555.50" cy="296.50" r=".55"/><circle cx="558.00" cy="296.50" r=".55"/><circle cx="554.25" cy="298.70" r=".55"/><circle cx="556.75" cy="298.70" r=".55"/><circle cx="559.25" cy="298.70" r=".55"/><circle cx="555.50" cy="300.90" r=".55"/><circle cx="558.00" cy="300.90" r=".55"/></g>
<text x="567.00" y="300.9" textLength="31.75" lengthAdjust="spacingAndGlyphs">NEAR</text>
<circle cx="612.00" cy="298.7" r="4.85" fill="#28a0f0"/>
<text x="622.00" y="300.9" textLength="50.50" lengthAdjust="spacingAndGlyphs">Arbitrum</text>
<circle cx="685.75" cy="298.7" r="4.85" fill="#e84142"/>
<g fill="rgba(185,25,55,.45)"><circle cx="684.50" cy="296.50" r=".55"/><circle cx="687.00" cy="296.50" r=".55"/><circle cx="683.25" cy="298.70" r=".55"/><circle cx="685.75" cy="298.70" r=".55"/><circle cx="688.25" cy="298.70" r=".55"/><circle cx="684.50" cy="300.90" r=".55"/><circle cx="687.00" cy="300.90" r=".55"/></g>
<text x="696.25" y="300.9" textLength="105.75" lengthAdjust="spacingAndGlyphs">Avalanche C-Chain</text>
<circle cx="815.00" cy="298.7" r="4.85" fill="#ff0420"/>
<text x="825.25" y="300.9" textLength="55.25" lengthAdjust="spacingAndGlyphs">Optimism</text>
<circle cx="893.75" cy="298.7" r="4.85" fill="#fac858"/>
<g fill="rgba(238,165,55,.55)"><circle cx="892.50" cy="296.50" r=".55"/><circle cx="895.00" cy="296.50" r=".55"/><circle cx="891.25" cy="298.70" r=".55"/><circle cx="893.75" cy="298.70" r=".55"/><circle cx="896.25" cy="298.70" r=".55"/><circle cx="892.50" cy="300.90" r=".55"/><circle cx="895.00" cy="300.90" r=".55"/></g>
<text x="903.75" y="300.9" textLength="33.00" lengthAdjust="spacingAndGlyphs">Aptos</text>
<circle cx="950.00" cy="298.7" r="4.85" fill="#ee6666"/>
<g fill="rgba(225,60,105,.5)"><circle cx="948.75" cy="296.50" r=".55"/><circle cx="951.25" cy="296.50" r=".55"/><circle cx="947.50" cy="298.70" r=".55"/><circle cx="950.00" cy="298.70" r=".55"/><circle cx="952.50" cy="298.70" r=".55"/><circle cx="948.75" cy="300.90" r=".55"/><circle cx="951.25" cy="300.90" r=".55"/></g>
<text x="960.00" y="300.9" textLength="24.25" lengthAdjust="spacingAndGlyphs">XDC</text>
<circle cx="997.00" cy="298.7" r="4.85" fill="#73c0de"/>
<g fill="rgba(90,250,190,.9)"><circle cx="995.75" cy="296.50" r=".55"/><circle cx="998.25" cy="296.50" r=".55"/><circle cx="994.50" cy="298.70" r=".55"/><circle cx="997.00" cy="298.70" r=".55"/><circle cx="999.50" cy="298.70" r=".55"/><circle cx="995.75" cy="300.90" r=".55"/><circle cx="998.25" cy="300.90" r=".55"/></g>
<text x="1007.00" y="300.9" textLength="25.50" lengthAdjust="spacingAndGlyphs">Celo</text>
<circle cx="1045.50" cy="298.7" r="4.85" fill="#0052ff"/>
<text x="1055.50" y="300.9" textLength="25.75" lengthAdjust="spacingAndGlyphs">Base</text>
<circle cx="1094.50" cy="298.7" r="4.85" fill="#fc8452"/>
<g fill="rgba(205,75,35,.6)"><circle cx="1093.25" cy="296.50" r=".55"/><circle cx="1095.75" cy="296.50" r=".55"/><circle cx="1092.00" cy="298.70" r=".55"/><circle cx="1094.50" cy="298.70" r=".55"/><circle cx="1097.00" cy="298.70" r=".55"/><circle cx="1093.25" cy="300.90" r=".55"/><circle cx="1095.75" cy="300.90" r=".55"/></g>
<text x="1104.50" y="300.9" textLength="65.00" lengthAdjust="spacingAndGlyphs">XRP Ledger</text>
<circle cx="1183.00" cy="298.7" r="4.85" fill="#9a60b4"/>
<g fill="rgba(215,40,110,.8)"><circle cx="1181.75" cy="296.50" r=".55"/><circle cx="1184.25" cy="296.50" r=".55"/><circle cx="1180.50" cy="298.70" r=".55"/><circle cx="1183.00" cy="298.70" r=".55"/><circle cx="1185.50" cy="298.70" r=".55"/><circle cx="1181.75" cy="300.90" r=".55"/><circle cx="1184.25" cy="300.90" r=".55"/></g>
<text x="1193.00" y="300.9" textLength="60.25" lengthAdjust="spacingAndGlyphs">ZKsync Era</text>
<circle cx="1266.75" cy="298.7" r="4.85" fill="#5470c6"/>
<g fill="rgba(20,100,130,.8)"><circle cx="1265.50" cy="296.50" r=".55"/><circle cx="1268.00" cy="296.50" r=".55"/><circle cx="1264.25" cy="298.70" r=".55"/><circle cx="1266.75" cy="298.70" r=".55"/><circle cx="1269.25" cy="298.70" r=".55"/><circle cx="1265.50" cy="300.90" r=".55"/><circle cx="1268.00" cy="300.90" r=".55"/></g>
<text x="1277.00" y="300.9" textLength="39.25" lengthAdjust="spacingAndGlyphs">Mantle</text>
<circle cx="1329.25" cy="298.7" r="4.85" fill="#91cc75"/>
<g fill="rgba(60,140,75,.75)"><circle cx="1328.00" cy="296.50" r=".55"/><circle cx="1330.50" cy="296.50" r=".55"/><circle cx="1326.75" cy="298.70" r=".55"/><circle cx="1329.25" cy="298.70" r=".55"/><circle cx="1331.75" cy="298.70" r=".55"/><circle cx="1328.00" cy="300.90" r=".55"/><circle cx="1330.50" cy="300.90" r=".55"/></g>
<text x="1339.50" y="300.9" textLength="51.75" lengthAdjust="spacingAndGlyphs">MANTRA</text>
<circle cx="1404.50" cy="298.7" r="4.85" fill="#fac858"/>
<g fill="rgba(238,165,55,.55)"><circle cx="1403.25" cy="296.50" r=".55"/><circle cx="1405.75" cy="296.50" r=".55"/><circle cx="1402.00" cy="298.70" r=".55"/><circle cx="1404.50" cy="298.70" r=".55"/><circle cx="1407.00" cy="298.70" r=".55"/><circle cx="1403.25" cy="300.90" r=".55"/><circle cx="1405.75" cy="300.90" r=".55"/></g>
<text x="1414.50" y="300.9" textLength="35.50" lengthAdjust="spacingAndGlyphs">Plume</text>
</g>
<g font-size="12" fill="#8a97b4">
<text x="72.5" y="613.8" text-anchor="end">$0</text>
<text x="72.5" y="577.7" text-anchor="end">$50B</text>
<text x="72.5" y="541.6" text-anchor="end">$100B</text>
<text x="72.5" y="505.5" text-anchor="end">$150B</text>
<text x="72.5" y="469.4" text-anchor="end">$200B</text>
<text x="72.5" y="433.3" text-anchor="end">$250B</text>
<text x="72.5" y="397.2" text-anchor="end">$300B</text>
<text x="72.5" y="361.1" text-anchor="end">$350B</text>
</g>
<g font-size="12" fill="#8a97b4">
<text x="48.0" y="628.4" textLength="65" lengthAdjust="spacingAndGlyphs">2017/11/28</text>
<text x="133.7" y="628.4" textLength="65" lengthAdjust="spacingAndGlyphs">2018/05/17</text>
<text x="219.4" y="628.4" textLength="65" lengthAdjust="spacingAndGlyphs">2018/11/03</text>
<text x="305.0" y="628.4" textLength="65" lengthAdjust="spacingAndGlyphs">2019/04/22</text>
<text x="390.7" y="628.4" textLength="65" lengthAdjust="spacingAndGlyphs">2019/10/09</text>
<text x="476.4" y="628.4" textLength="65" lengthAdjust="spacingAndGlyphs">2020/03/27</text>
<text x="562.1" y="628.4" textLength="65" lengthAdjust="spacingAndGlyphs">2020/09/13</text>
<text x="647.8" y="628.4" textLength="65" lengthAdjust="spacingAndGlyphs">2021/03/02</text>
<text x="733.4" y="628.4" textLength="65" lengthAdjust="spacingAndGlyphs">2021/08/19</text>
<text x="819.1" y="628.4" textLength="65" lengthAdjust="spacingAndGlyphs">2022/02/05</text>
<text x="904.8" y="628.4" textLength="65" lengthAdjust="spacingAndGlyphs">2022/07/25</text>
<text x="990.5" y="628.4" textLength="65" lengthAdjust="spacingAndGlyphs">2023/01/11</text>
<text x="1076.2" y="628.4" textLength="65" lengthAdjust="spacingAndGlyphs">2023/06/30</text>
<text x="1161.8" y="628.4" textLength="65" lengthAdjust="spacingAndGlyphs">2023/12/17</text>
<text x="1247.5" y="628.4" textLength="65" lengthAdjust="spacingAndGlyphs">2024/06/04</text>
<text x="1333.2" y="628.4" textLength="65" lengthAdjust="spacingAndGlyphs">2024/11/21</text>
<text x="1418.9" y="628.4" textLength="65" lengthAdjust="spacingAndGlyphs">2025/05/10</text>
<text x="1504.6" y="628.4" textLength="65" lengthAdjust="spacingAndGlyphs">2025/10/27</text>
</g>
</svg>
<svg class="abs" style="left:1424px;top:590px;width:176px;height:46px;overflow:visible" viewBox="0 0 176 46">
<defs><filter id="ws" x="-10%" y="-20%" width="120%" height="150%"><feDropShadow dx="0.8" dy="0.9" stdDeviation="0.7" flood-color="#3c3c3c" flood-opacity="0.55"/></filter></defs>
<g filter="url(#ws)" fill="#ffffff" fill-opacity="0.86">
<g transform="translate(6,6.4) scale(0.221)">
<path d="M38.73 53.2l24.59-24.58 24.6 24.6 14.3-14.31L63.32 0 24.43 38.9zM0 63.31l14.3-14.31 14.31 14.31-14.31 14.3zM38.73 73.41l24.59 24.59 24.6-24.6 14.31 14.29-38.9 38.91-38.91-38.88zM98 63.31l14.3-14.31 14.31 14.3-14.31 14.32zM77.83 63.3L63.32 48.78 48.81 63.28l14.51 14.5z"/>
</g>
<text x="37.5" y="29.2" font-size="25.5" font-family="'Liberation Sans',sans-serif" textLength="130.5" lengthAdjust="spacingAndGlyphs">@ ME News</text>
</g>
</svg>
<div class="edge"></div>
</body>
</html>
